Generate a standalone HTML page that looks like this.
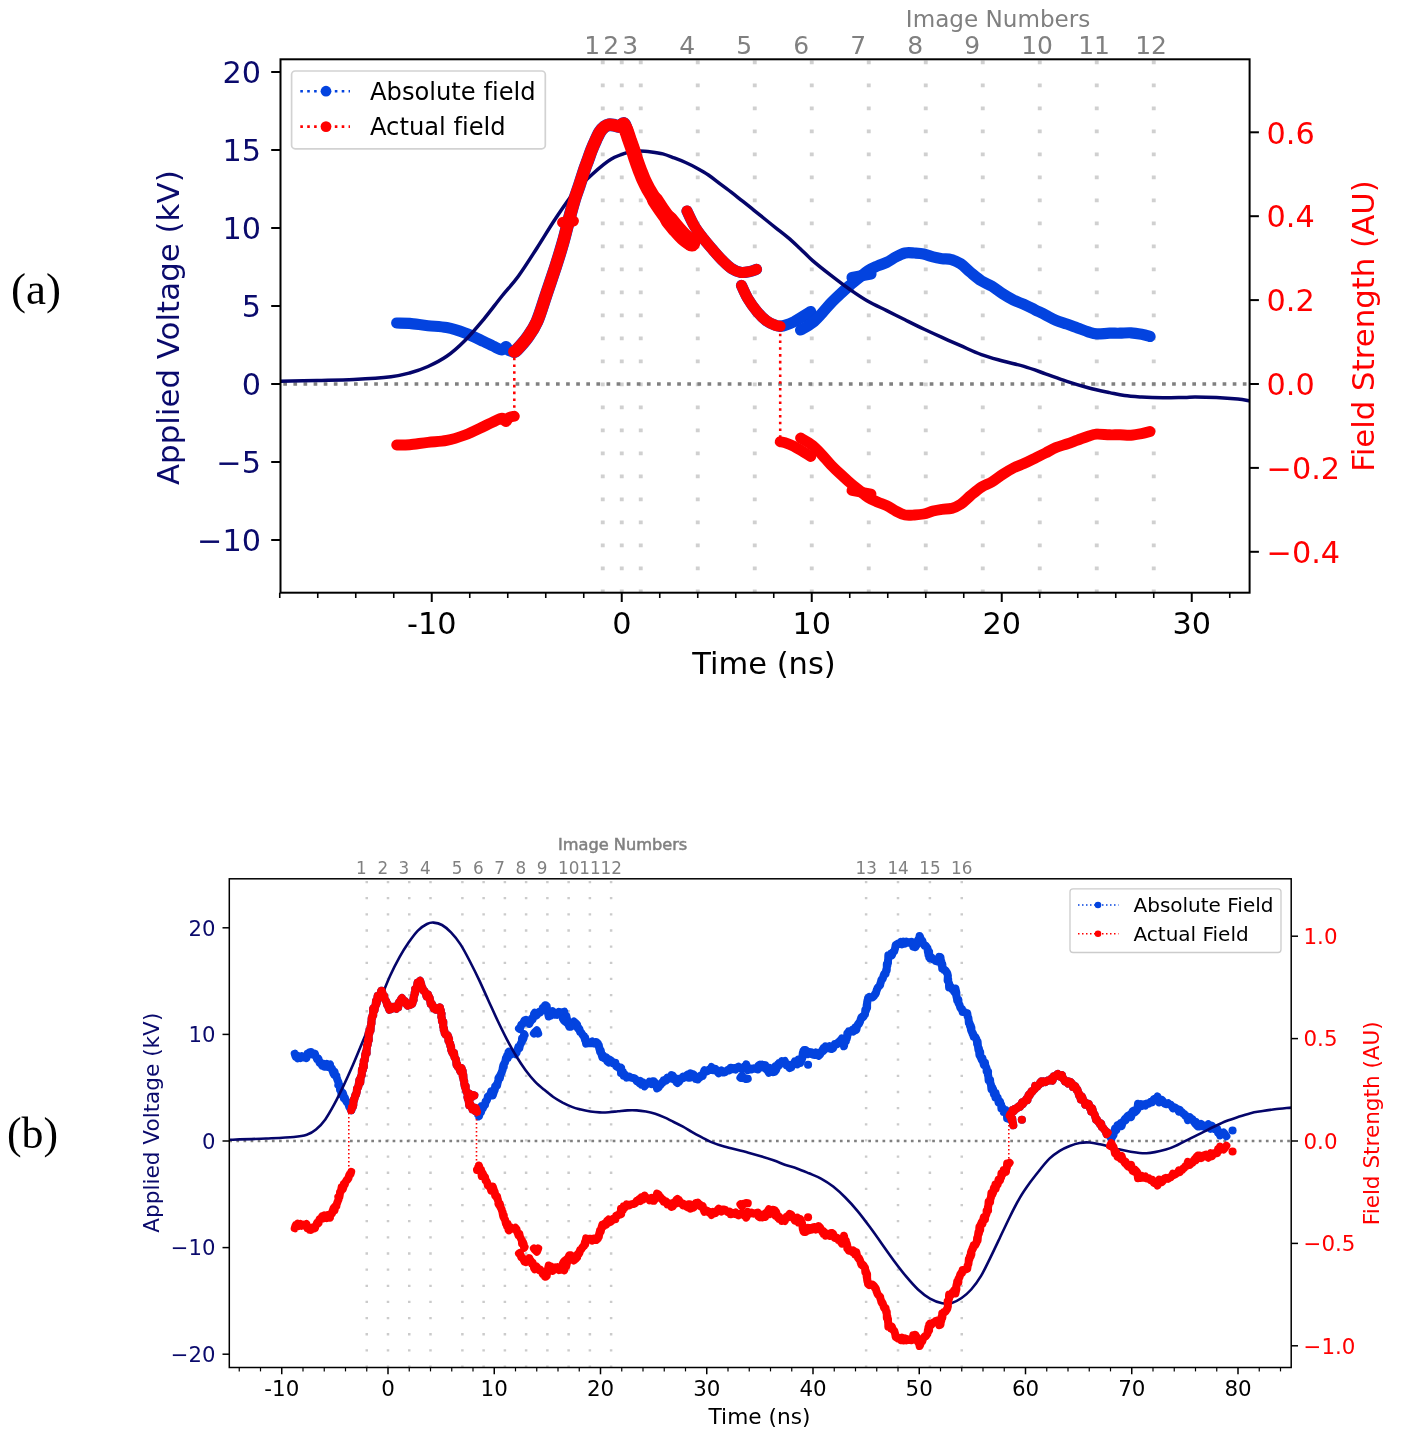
<!DOCTYPE html>
<html><head><meta charset="utf-8"><title>Figure</title>
<style>
html,body{margin:0;padding:0;background:#fff;}
body{width:1404px;height:1441px;overflow:hidden;position:relative;}
svg{position:absolute;left:0;top:0;display:block;}
svg text{font-family:"DejaVu Sans","Liberation Sans",sans-serif;font-variant-ligatures:none;font-feature-settings:"liga" 0,"clig" 0;}
.lab{position:absolute;font-family:"Liberation Serif",serif;font-size:45px;line-height:1;color:#000;white-space:nowrap;}
</style></head><body>
<svg width="1404" height="1441" viewBox="0 0 1404 1441">
<g id="plotA">
<line x1="602.75" y1="59.3" x2="602.75" y2="592.7" stroke="#d0d0d0" stroke-width="3.9" stroke-dasharray="3.8 19.2" stroke-dashoffset="-1.1"/>
<line x1="621.75" y1="59.3" x2="621.75" y2="592.7" stroke="#d0d0d0" stroke-width="3.9" stroke-dasharray="3.8 19.2" stroke-dashoffset="-1.1"/>
<line x1="640.75" y1="59.3" x2="640.75" y2="592.7" stroke="#d0d0d0" stroke-width="3.9" stroke-dasharray="3.8 19.2" stroke-dashoffset="-1.1"/>
<line x1="697.75" y1="59.3" x2="697.75" y2="592.7" stroke="#d0d0d0" stroke-width="3.9" stroke-dasharray="3.8 19.2" stroke-dashoffset="-1.1"/>
<line x1="754.75" y1="59.3" x2="754.75" y2="592.7" stroke="#d0d0d0" stroke-width="3.9" stroke-dasharray="3.8 19.2" stroke-dashoffset="-1.1"/>
<line x1="811.75" y1="59.3" x2="811.75" y2="592.7" stroke="#d0d0d0" stroke-width="3.9" stroke-dasharray="3.8 19.2" stroke-dashoffset="-1.1"/>
<line x1="868.75" y1="59.3" x2="868.75" y2="592.7" stroke="#d0d0d0" stroke-width="3.9" stroke-dasharray="3.8 19.2" stroke-dashoffset="-1.1"/>
<line x1="925.75" y1="59.3" x2="925.75" y2="592.7" stroke="#d0d0d0" stroke-width="3.9" stroke-dasharray="3.8 19.2" stroke-dashoffset="-1.1"/>
<line x1="982.75" y1="59.3" x2="982.75" y2="592.7" stroke="#d0d0d0" stroke-width="3.9" stroke-dasharray="3.8 19.2" stroke-dashoffset="-1.1"/>
<line x1="1039.75" y1="59.3" x2="1039.75" y2="592.7" stroke="#d0d0d0" stroke-width="3.9" stroke-dasharray="3.8 19.2" stroke-dashoffset="-1.1"/>
<line x1="1096.75" y1="59.3" x2="1096.75" y2="592.7" stroke="#d0d0d0" stroke-width="3.9" stroke-dasharray="3.8 19.2" stroke-dashoffset="-1.1"/>
<line x1="1153.75" y1="59.3" x2="1153.75" y2="592.7" stroke="#d0d0d0" stroke-width="3.9" stroke-dasharray="3.8 19.2" stroke-dashoffset="-1.1"/>
<line x1="280.5" y1="384.0" x2="1249.6" y2="384.0" stroke="#808080" stroke-width="3.6" stroke-dasharray="3.7 6.4" stroke-dashoffset="-2.8"/>
<path d="M396.7,323.0 C398.9,323.1 404.4,322.9 409.6,323.3 C414.8,323.8 421.8,325.0 428.0,325.7 C434.2,326.4 440.5,326.4 446.7,327.6 C452.9,328.8 458.8,330.7 465.0,333.0 C471.2,335.3 479.0,339.3 483.7,341.5 C488.4,343.7 489.9,344.6 493.0,346.0 C496.1,347.4 499.8,349.7 502.0,349.8 C504.2,349.9 504.8,346.4 506.0,346.5 C507.2,346.6 507.6,349.6 509.0,350.5 C510.4,351.4 513.4,351.5 514.3,351.7" fill="none" stroke="#0343df" stroke-width="11.2" stroke-linecap="round" stroke-linejoin="round"/>
<path d="M687.0,211.0 C688.2,213.5 691.6,221.3 694.4,226.0 C697.2,230.7 700.6,234.9 703.7,238.9 C706.8,242.9 709.9,246.4 713.0,250.0 C716.1,253.6 719.1,257.1 722.2,260.2 C725.3,263.3 728.4,266.5 731.5,268.5 C734.6,270.5 737.6,271.9 740.7,272.4 C743.8,272.9 747.4,272.0 750.0,271.5 C752.6,271.0 755.4,269.7 756.5,269.3" fill="none" stroke="#0343df" stroke-width="11.2" stroke-linecap="round" stroke-linejoin="round"/>
<path d="M741.5,285.4 C742.5,287.6 745.2,294.1 747.8,298.5 C750.4,302.9 753.9,307.8 757.0,311.5 C760.1,315.2 763.2,318.4 766.3,320.7 C769.4,323.0 773.3,324.5 775.6,325.4 C777.9,326.3 779.4,326.1 780.2,326.3" fill="none" stroke="#0343df" stroke-width="11.2" stroke-linecap="round" stroke-linejoin="round"/>
<path d="M780.2,326.3 C781.0,326.1 782.5,326.2 784.8,325.4 C787.1,324.6 790.9,323.2 794.0,321.7 C797.1,320.1 800.5,317.8 803.3,316.1 C806.1,314.4 809.5,312.3 810.7,311.5" fill="none" stroke="#0343df" stroke-width="11.2" stroke-linecap="round" stroke-linejoin="round"/>
<path d="M800.6,330.0 C802.6,328.8 809.1,325.4 812.6,322.6 C816.1,319.8 818.8,316.6 821.9,313.3 C825.0,310.0 827.9,306.2 831.0,303.0 C834.1,299.8 837.3,296.8 840.4,293.9 C843.5,291.0 846.5,288.2 849.6,285.6 C852.7,283.0 855.8,280.5 858.9,278.0 C862.0,275.5 864.9,272.7 868.0,270.7 C871.1,268.7 874.3,267.4 877.4,266.0 C880.5,264.6 883.6,263.9 886.7,262.4 C889.8,260.9 893.0,258.5 896.0,256.9 C899.0,255.3 901.9,253.7 905.0,253.0 C908.1,252.3 911.3,252.8 914.4,253.0 C917.5,253.2 920.6,253.3 923.7,254.0 C926.8,254.7 930.0,256.1 933.0,256.9 C936.0,257.7 938.9,258.2 942.0,258.7 C945.1,259.1 948.4,258.8 951.5,259.6 C954.6,260.5 957.5,261.7 960.7,263.8 C963.9,265.9 967.2,269.6 970.7,272.5 C974.2,275.4 977.9,278.6 981.4,280.9 C984.9,283.2 988.5,284.1 992.0,286.2 C995.5,288.3 999.1,291.4 1002.7,293.7 C1006.3,296.0 1009.9,298.2 1013.4,300.0 C1016.9,301.8 1020.4,302.8 1024.0,304.4 C1027.6,306.0 1031.2,307.9 1034.8,309.7 C1038.4,311.5 1042.0,313.2 1045.5,315.0 C1049.0,316.8 1052.5,318.9 1056.0,320.4 C1059.5,321.9 1063.2,322.8 1066.8,324.0 C1070.4,325.2 1073.9,326.6 1077.5,327.9 C1081.1,329.2 1085.0,330.8 1088.2,331.8 C1091.4,332.8 1093.2,333.7 1096.8,333.9 C1100.4,334.1 1105.7,333.3 1109.6,333.2 C1113.5,333.1 1116.4,333.3 1120.0,333.2 C1123.6,333.1 1127.4,332.6 1131.0,332.8 C1134.6,333.0 1138.4,333.7 1141.6,334.3 C1144.8,334.9 1148.6,336.1 1150.0,336.5" fill="none" stroke="#0343df" stroke-width="11.2" stroke-linecap="round" stroke-linejoin="round"/>
<path d="M852.0,277.5 L871.0,274.0" fill="none" stroke="#0343df" stroke-width="11.2" stroke-linecap="round" stroke-linejoin="round"/>
<path d="M514.3,351.7 C514.7,351.4 514.5,352.4 516.7,350.0 C519.0,347.6 524.4,341.8 527.8,337.0 C531.2,332.2 533.9,328.6 537.0,321.5 C540.1,314.4 543.2,303.5 546.3,294.4 C549.4,285.3 552.8,275.3 555.6,266.7 C558.4,258.1 560.9,250.1 563.0,242.6 C565.1,235.1 566.6,228.7 568.5,221.5 C570.4,214.3 572.7,205.8 574.5,199.7 C576.3,193.6 577.9,190.0 579.5,185.0 C581.1,180.0 583.0,174.0 584.4,169.8 C585.8,165.6 586.8,163.3 588.0,160.0 C589.2,156.7 590.3,153.2 591.6,149.9 C592.9,146.6 594.5,142.9 595.9,139.9 C597.3,136.9 598.6,134.0 600.0,131.8 C601.4,129.6 603.0,128.0 604.5,126.8 C606.0,125.6 607.2,125.1 608.8,124.8 C610.4,124.5 612.3,124.9 614.0,125.2 C615.7,125.5 617.4,126.8 619.0,126.5 C620.6,126.2 622.6,123.2 623.8,123.5 C625.0,123.8 625.4,126.4 626.0,128.0 C626.6,129.6 626.9,131.0 627.5,133.0 C628.1,135.0 628.8,137.1 629.8,139.9 C630.8,142.7 632.2,146.6 633.3,149.9 C634.4,153.2 635.2,156.5 636.3,159.8 C637.4,163.1 638.6,166.5 639.8,169.8 C641.0,173.1 642.2,176.5 643.7,179.8 C645.2,183.1 646.9,186.4 648.7,189.7 C650.6,193.0 652.7,196.4 654.8,199.7 C656.9,203.0 659.2,206.4 661.5,209.7 C663.8,213.0 666.2,216.3 668.8,219.6 C671.4,222.9 674.5,226.7 677.0,229.6 C679.5,232.5 681.4,234.7 684.0,237.0 C686.6,239.3 691.3,242.5 692.8,243.6" fill="none" stroke="#0343df" stroke-width="12.9" stroke-linecap="round" stroke-linejoin="round"/>
<path d="M280.0,381.3 C286.2,381.1 304.7,380.7 317.0,380.4 C329.3,380.1 341.7,380.0 354.0,379.4 C366.3,378.8 381.7,377.8 391.0,376.7 C400.3,375.6 403.4,374.7 409.6,373.0 C415.8,371.3 421.8,369.3 428.0,366.5 C434.2,363.7 440.5,360.6 446.7,356.3 C452.9,352.0 458.8,346.7 465.0,340.5 C471.2,334.3 477.5,326.7 483.7,319.3 C489.9,311.9 496.2,303.2 502.0,296.0 C507.8,288.8 512.7,284.0 518.5,276.0 C524.3,268.0 530.8,257.6 537.0,248.0 C543.2,238.4 549.4,227.7 555.6,218.5 C561.8,209.3 567.8,200.0 574.0,192.6 C580.2,185.2 586.4,179.6 592.6,174.0 C598.8,168.4 604.8,163.0 611.0,159.3 C617.2,155.6 624.8,153.3 629.6,151.9 C634.4,150.5 636.4,150.9 640.0,150.9 C643.6,150.9 647.6,151.4 651.4,151.9 C655.2,152.4 659.0,152.9 662.8,153.9 C666.6,154.9 670.4,156.5 674.2,157.9 C678.0,159.3 681.8,160.8 685.6,162.5 C689.4,164.2 693.2,166.1 697.0,168.2 C700.8,170.3 704.6,172.4 708.4,175.0 C712.2,177.6 716.0,180.8 719.8,183.6 C723.6,186.4 727.4,189.2 731.2,192.1 C735.0,195.0 738.8,198.2 742.6,201.2 C746.4,204.2 750.2,207.2 754.0,210.3 C757.8,213.4 761.6,216.4 765.4,219.5 C769.2,222.6 772.9,225.6 776.7,228.6 C780.5,231.6 784.2,234.4 788.1,237.7 C792.0,241.0 795.9,244.7 800.0,248.5 C804.1,252.3 807.4,256.1 812.6,260.6 C817.8,265.1 824.8,270.6 831.0,275.4 C837.2,280.2 843.4,285.0 849.6,289.3 C855.8,293.6 861.8,297.8 868.0,301.3 C874.2,304.9 880.5,307.5 886.7,310.6 C892.9,313.7 898.8,316.7 905.0,319.8 C911.2,322.9 917.5,326.1 923.7,329.0 C929.9,331.9 935.8,334.6 942.0,337.4 C948.2,340.2 954.1,342.8 960.7,345.7 C967.3,348.6 974.4,352.1 981.4,354.6 C988.4,357.2 995.6,359.0 1002.7,361.0 C1009.8,363.0 1016.9,364.3 1024.0,366.4 C1031.1,368.5 1038.4,371.3 1045.5,373.8 C1052.6,376.3 1059.7,379.0 1066.8,381.3 C1073.9,383.6 1081.1,385.8 1088.2,387.7 C1095.3,389.6 1103.5,391.3 1109.6,392.6 C1115.6,393.9 1119.2,394.9 1124.5,395.6 C1129.8,396.3 1135.2,396.6 1141.6,397.0 C1148.0,397.4 1155.9,397.7 1163.0,397.8 C1170.1,397.9 1179.1,397.5 1184.4,397.4 C1189.7,397.3 1189.7,397.0 1195.0,397.0 C1200.3,397.0 1209.3,397.1 1216.4,397.4 C1223.5,397.7 1232.3,398.4 1237.8,399.0 C1243.3,399.6 1247.6,400.5 1249.6,400.8" fill="none" stroke="#05056a" stroke-width="3.5" stroke-linejoin="round"/>
<line x1="514.3" y1="351.0" x2="514.3" y2="417.0" stroke="#ff0000" stroke-width="2.55" stroke-dasharray="2.55 4.22"/>
<line x1="780.2" y1="327.0" x2="780.2" y2="441.0" stroke="#ff0000" stroke-width="2.55" stroke-dasharray="2.55 4.22"/>
<path d="M562.5,222.5 L573.5,221.0" fill="none" stroke="#ff0000" stroke-width="10.9" stroke-linecap="round" stroke-linejoin="round"/>
<path d="M687.0,211.0 C688.2,213.5 691.6,221.3 694.4,226.0 C697.2,230.7 700.6,234.9 703.7,238.9 C706.8,242.9 709.9,246.4 713.0,250.0 C716.1,253.6 719.1,257.1 722.2,260.2 C725.3,263.3 728.4,266.5 731.5,268.5 C734.6,270.5 737.6,271.9 740.7,272.4 C743.8,272.9 747.4,272.0 750.0,271.5 C752.6,271.0 755.4,269.7 756.5,269.3" fill="none" stroke="#ff0000" stroke-width="10.9" stroke-linecap="round" stroke-linejoin="round"/>
<path d="M741.5,285.4 C742.5,287.6 745.2,294.1 747.8,298.5 C750.4,302.9 753.9,307.8 757.0,311.5 C760.1,315.2 763.2,318.4 766.3,320.7 C769.4,323.0 773.3,324.5 775.6,325.4 C777.9,326.3 779.4,326.1 780.2,326.3" fill="none" stroke="#ff0000" stroke-width="10.9" stroke-linecap="round" stroke-linejoin="round"/>
<path d="M514.3,351.7 C514.7,351.4 514.5,352.4 516.7,350.0 C519.0,347.6 524.4,341.8 527.8,337.0 C531.2,332.2 533.9,328.6 537.0,321.5 C540.1,314.4 543.2,303.5 546.3,294.4 C549.4,285.3 552.8,275.3 555.6,266.7 C558.4,258.1 560.9,250.1 563.0,242.6 C565.1,235.1 566.6,228.7 568.5,221.5 C570.4,214.3 572.7,205.8 574.5,199.7 C576.3,193.6 577.9,190.0 579.5,185.0 C581.1,180.0 583.0,174.0 584.4,169.8 C585.8,165.6 586.8,163.3 588.0,160.0 C589.2,156.7 590.3,153.2 591.6,149.9 C592.9,146.6 594.5,142.9 595.9,139.9 C597.3,136.9 598.6,134.0 600.0,131.8 C601.4,129.6 603.0,128.0 604.5,126.8 C606.0,125.6 607.2,125.1 608.8,124.8 C610.4,124.5 612.3,124.9 614.0,125.2 C615.7,125.5 617.4,126.8 619.0,126.5 C620.6,126.2 622.6,123.2 623.8,123.5 C625.0,123.8 625.4,126.4 626.0,128.0 C626.6,129.6 626.9,131.0 627.5,133.0 C628.1,135.0 628.8,137.1 629.8,139.9 C630.8,142.7 632.2,146.6 633.3,149.9 C634.4,153.2 635.2,156.5 636.3,159.8 C637.4,163.1 638.6,166.5 639.8,169.8 C641.0,173.1 642.2,176.5 643.7,179.8 C645.2,183.1 646.9,186.4 648.7,189.7 C650.6,193.0 652.7,196.4 654.8,199.7 C656.9,203.0 659.2,206.4 661.5,209.7 C663.8,213.0 666.2,216.3 668.8,219.6 C671.4,222.9 674.5,226.7 677.0,229.6 C679.5,232.5 681.4,234.7 684.0,237.0 C686.6,239.3 691.3,242.5 692.8,243.6" fill="none" stroke="#ff0000" stroke-width="12.3" stroke-linecap="round" stroke-linejoin="round"/>
<path d="M622.5,125.5 C623.0,126.0 624.7,127.2 625.5,128.5 C626.3,129.8 626.5,131.1 627.2,133.0 C627.9,134.9 628.5,137.1 629.5,139.9 C630.5,142.7 631.9,146.6 633.0,149.9 C634.1,153.2 635.0,156.5 636.1,159.8 C637.2,163.1 638.4,166.5 639.7,169.8 C641.0,173.1 642.2,176.5 643.7,179.8 C645.2,183.1 646.9,186.4 648.7,189.7 C650.6,193.0 652.7,196.4 654.8,199.7 C656.9,203.0 659.2,206.4 661.5,209.7 C663.8,213.0 666.2,216.3 668.8,219.6 C671.4,222.9 674.5,226.7 677.0,229.6 C679.5,232.5 681.6,234.8 684.0,237.0 C686.4,239.2 690.2,241.8 691.5,242.8" fill="none" stroke="#ff0000" stroke-width="14.5" stroke-linecap="round" stroke-linejoin="round"/>
<path d="M654.8,199.7 C655.9,201.4 659.2,206.4 661.5,209.7 C663.8,213.0 666.2,216.3 668.8,219.6 C671.4,222.9 674.5,226.7 677.0,229.6 C679.5,232.5 681.6,234.8 684.0,237.0 C686.4,239.2 690.2,241.8 691.5,242.8" fill="none" stroke="#ff0000" stroke-width="16.0" stroke-linecap="round" stroke-linejoin="round"/>
<path d="M668.8,219.6 C670.2,221.3 674.5,226.7 677.0,229.6 C679.5,232.5 681.6,234.8 684.0,237.0 C686.4,239.2 690.2,241.8 691.5,242.8" fill="none" stroke="#ff0000" stroke-width="17.6" stroke-linecap="round" stroke-linejoin="round"/>
<path d="M396.7,445.0 C398.9,444.9 404.4,445.1 409.6,444.7 C414.8,444.2 421.8,443.0 428.0,442.3 C434.2,441.6 440.5,441.6 446.7,440.4 C452.9,439.2 458.8,437.3 465.0,435.0 C471.2,432.7 479.0,428.7 483.7,426.5 C488.4,424.3 489.9,423.4 493.0,422.0 C496.1,420.6 499.8,418.3 502.0,418.2 C504.2,418.1 504.8,421.6 506.0,421.5 C507.2,421.4 507.6,418.4 509.0,417.5 C510.4,416.6 513.4,416.5 514.3,416.3" fill="none" stroke="#ff0000" stroke-width="10.9" stroke-linecap="round" stroke-linejoin="round"/>
<path d="M780.2,441.7 C781.0,441.9 782.5,441.8 784.8,442.6 C787.1,443.4 790.9,444.8 794.0,446.3 C797.1,447.9 800.5,450.2 803.3,451.9 C806.1,453.6 809.5,455.7 810.7,456.5" fill="none" stroke="#ff0000" stroke-width="10.9" stroke-linecap="round" stroke-linejoin="round"/>
<path d="M800.6,438.0 C802.6,439.2 809.1,442.6 812.6,445.4 C816.1,448.2 818.8,451.4 821.9,454.7 C825.0,458.0 827.9,461.8 831.0,465.0 C834.1,468.2 837.3,471.2 840.4,474.1 C843.5,477.0 846.5,479.8 849.6,482.4 C852.7,485.0 855.8,487.5 858.9,490.0 C862.0,492.5 864.9,495.3 868.0,497.3 C871.1,499.3 874.3,500.6 877.4,502.0 C880.5,503.4 883.6,504.1 886.7,505.6 C889.8,507.1 893.0,509.5 896.0,511.1 C899.0,512.7 901.9,514.4 905.0,515.0 C908.1,515.6 911.3,515.2 914.4,515.0 C917.5,514.8 920.6,514.6 923.7,514.0 C926.8,513.4 930.0,511.9 933.0,511.1 C936.0,510.3 938.9,509.8 942.0,509.3 C945.1,508.9 948.4,509.2 951.5,508.4 C954.6,507.5 957.5,506.3 960.7,504.2 C963.9,502.1 967.2,498.4 970.7,495.5 C974.2,492.6 977.9,489.4 981.4,487.1 C984.9,484.8 988.5,483.9 992.0,481.8 C995.5,479.7 999.1,476.6 1002.7,474.3 C1006.3,472.0 1009.9,469.8 1013.4,468.0 C1016.9,466.2 1020.4,465.2 1024.0,463.6 C1027.6,462.0 1031.2,460.1 1034.8,458.3 C1038.4,456.5 1042.0,454.8 1045.5,453.0 C1049.0,451.2 1052.5,449.1 1056.0,447.6 C1059.5,446.1 1063.2,445.2 1066.8,444.0 C1070.4,442.8 1073.9,441.4 1077.5,440.1 C1081.1,438.8 1085.0,437.2 1088.2,436.2 C1091.4,435.2 1093.2,434.3 1096.8,434.1 C1100.4,433.9 1105.7,434.7 1109.6,434.8 C1113.5,434.9 1116.4,434.7 1120.0,434.8 C1123.6,434.9 1127.4,435.4 1131.0,435.2 C1134.6,435.0 1138.4,434.3 1141.6,433.7 C1144.8,433.1 1148.6,431.9 1150.0,431.5" fill="none" stroke="#ff0000" stroke-width="10.9" stroke-linecap="round" stroke-linejoin="round"/>
<path d="M852.0,490.5 L871.0,494.0" fill="none" stroke="#ff0000" stroke-width="10.9" stroke-linecap="round" stroke-linejoin="round"/>
<rect x="280.5" y="59.3" width="969.1" height="533.4" fill="none" stroke="#000" stroke-width="2"/>
<line x1="279.75" y1="592.7" x2="279.75" y2="598.0" stroke="#000" stroke-width="1.6"/>
<line x1="317.75" y1="592.7" x2="317.75" y2="598.0" stroke="#000" stroke-width="1.6"/>
<line x1="355.75" y1="592.7" x2="355.75" y2="598.0" stroke="#000" stroke-width="1.6"/>
<line x1="393.75" y1="592.7" x2="393.75" y2="598.0" stroke="#000" stroke-width="1.6"/>
<line x1="431.75" y1="592.7" x2="431.75" y2="602.0" stroke="#000" stroke-width="2"/>
<line x1="469.75" y1="592.7" x2="469.75" y2="598.0" stroke="#000" stroke-width="1.6"/>
<line x1="507.75" y1="592.7" x2="507.75" y2="598.0" stroke="#000" stroke-width="1.6"/>
<line x1="545.75" y1="592.7" x2="545.75" y2="598.0" stroke="#000" stroke-width="1.6"/>
<line x1="583.75" y1="592.7" x2="583.75" y2="598.0" stroke="#000" stroke-width="1.6"/>
<line x1="621.75" y1="592.7" x2="621.75" y2="602.0" stroke="#000" stroke-width="2"/>
<line x1="659.75" y1="592.7" x2="659.75" y2="598.0" stroke="#000" stroke-width="1.6"/>
<line x1="697.75" y1="592.7" x2="697.75" y2="598.0" stroke="#000" stroke-width="1.6"/>
<line x1="735.75" y1="592.7" x2="735.75" y2="598.0" stroke="#000" stroke-width="1.6"/>
<line x1="773.75" y1="592.7" x2="773.75" y2="598.0" stroke="#000" stroke-width="1.6"/>
<line x1="811.75" y1="592.7" x2="811.75" y2="602.0" stroke="#000" stroke-width="2"/>
<line x1="849.75" y1="592.7" x2="849.75" y2="598.0" stroke="#000" stroke-width="1.6"/>
<line x1="887.75" y1="592.7" x2="887.75" y2="598.0" stroke="#000" stroke-width="1.6"/>
<line x1="925.75" y1="592.7" x2="925.75" y2="598.0" stroke="#000" stroke-width="1.6"/>
<line x1="963.75" y1="592.7" x2="963.75" y2="598.0" stroke="#000" stroke-width="1.6"/>
<line x1="1001.75" y1="592.7" x2="1001.75" y2="602.0" stroke="#000" stroke-width="2"/>
<line x1="1039.75" y1="592.7" x2="1039.75" y2="598.0" stroke="#000" stroke-width="1.6"/>
<line x1="1077.75" y1="592.7" x2="1077.75" y2="598.0" stroke="#000" stroke-width="1.6"/>
<line x1="1115.75" y1="592.7" x2="1115.75" y2="598.0" stroke="#000" stroke-width="1.6"/>
<line x1="1153.75" y1="592.7" x2="1153.75" y2="598.0" stroke="#000" stroke-width="1.6"/>
<line x1="1191.75" y1="592.7" x2="1191.75" y2="602.0" stroke="#000" stroke-width="2"/>
<line x1="1229.75" y1="592.7" x2="1229.75" y2="598.0" stroke="#000" stroke-width="1.6"/>
<text x="431.8" y="633.8" font-size="30.3" text-anchor="middle" fill="#000">-10</text>
<text x="621.8" y="633.8" font-size="30.3" text-anchor="middle" fill="#000">0</text>
<text x="811.8" y="633.8" font-size="30.3" text-anchor="middle" fill="#000">10</text>
<text x="1001.8" y="633.8" font-size="30.3" text-anchor="middle" fill="#000">20</text>
<text x="1191.8" y="633.8" font-size="30.3" text-anchor="middle" fill="#000">30</text>
<line x1="271.2" y1="72.0" x2="280.5" y2="72.0" stroke="#000" stroke-width="2"/>
<text x="261" y="83.2" font-size="30.3" text-anchor="end" fill="#0a0a6c">20</text>
<line x1="271.2" y1="150.0" x2="280.5" y2="150.0" stroke="#000" stroke-width="2"/>
<text x="261" y="161.2" font-size="30.3" text-anchor="end" fill="#0a0a6c">15</text>
<line x1="271.2" y1="228.0" x2="280.5" y2="228.0" stroke="#000" stroke-width="2"/>
<text x="261" y="239.2" font-size="30.3" text-anchor="end" fill="#0a0a6c">10</text>
<line x1="271.2" y1="306.0" x2="280.5" y2="306.0" stroke="#000" stroke-width="2"/>
<text x="261" y="317.2" font-size="30.3" text-anchor="end" fill="#0a0a6c">5</text>
<line x1="271.2" y1="384.0" x2="280.5" y2="384.0" stroke="#000" stroke-width="2"/>
<text x="261" y="395.2" font-size="30.3" text-anchor="end" fill="#0a0a6c">0</text>
<line x1="271.2" y1="462.0" x2="280.5" y2="462.0" stroke="#000" stroke-width="2"/>
<text x="261" y="473.2" font-size="30.3" text-anchor="end" fill="#0a0a6c">−5</text>
<line x1="271.2" y1="540.0" x2="280.5" y2="540.0" stroke="#000" stroke-width="2"/>
<text x="261" y="551.2" font-size="30.3" text-anchor="end" fill="#0a0a6c">−10</text>
<line x1="1249.6" y1="132.3" x2="1258.9" y2="132.3" stroke="#000" stroke-width="2"/>
<text x="1266.5" y="143.5" font-size="30.3" fill="#ff0000">0.6</text>
<line x1="1249.6" y1="216.2" x2="1258.9" y2="216.2" stroke="#000" stroke-width="2"/>
<text x="1266.5" y="227.4" font-size="30.3" fill="#ff0000">0.4</text>
<line x1="1249.6" y1="300.1" x2="1258.9" y2="300.1" stroke="#000" stroke-width="2"/>
<text x="1266.5" y="311.3" font-size="30.3" fill="#ff0000">0.2</text>
<line x1="1249.6" y1="384.0" x2="1258.9" y2="384.0" stroke="#000" stroke-width="2"/>
<text x="1266.5" y="395.2" font-size="30.3" fill="#ff0000">0.0</text>
<line x1="1249.6" y1="467.9" x2="1258.9" y2="467.9" stroke="#000" stroke-width="2"/>
<text x="1266.5" y="479.1" font-size="30.3" fill="#ff0000">−0.2</text>
<line x1="1249.6" y1="551.8" x2="1258.9" y2="551.8" stroke="#000" stroke-width="2"/>
<text x="1266.5" y="563.0" font-size="30.3" fill="#ff0000">−0.4</text>
<text x="764" y="674.3" font-size="30.5" text-anchor="middle" fill="#000">Time (ns)</text>
<text transform="translate(179.3,327.7) rotate(-90)" font-size="30.9" text-anchor="middle" fill="#0a0a6c">Applied Voltage (kV)</text>
<text transform="translate(1374.3,326) rotate(-90)" font-size="30.8" text-anchor="middle" fill="#ff0000">Field Strength (AU)</text>
<text x="998.1" y="27" font-size="23.1" text-anchor="middle" fill="#808080">Image Numbers</text>
<text x="584.2" y="53.8" font-size="25" fill="#808080">1</text>
<text x="603.2" y="53.8" font-size="25" fill="#808080">2</text>
<text x="622.2" y="53.8" font-size="25" fill="#808080">3</text>
<text x="679.2" y="53.8" font-size="25" fill="#808080">4</text>
<text x="736.2" y="53.8" font-size="25" fill="#808080">5</text>
<text x="793.2" y="53.8" font-size="25" fill="#808080">6</text>
<text x="850.2" y="53.8" font-size="25" fill="#808080">7</text>
<text x="907.2" y="53.8" font-size="25" fill="#808080">8</text>
<text x="964.2" y="53.8" font-size="25" fill="#808080">9</text>
<text x="1021.2" y="53.8" font-size="25" fill="#808080">10</text>
<text x="1078.2" y="53.8" font-size="25" fill="#808080">11</text>
<text x="1135.2" y="53.8" font-size="25" fill="#808080">12</text>
<rect x="291.6" y="71" width="253.7" height="77.8" rx="3.6" ry="3.6" fill="#fff" fill-opacity="0.8" stroke="#d2d2d2" stroke-width="1.7"/>
<line x1="300.3" y1="91.2" x2="350" y2="91.2" stroke="#0343df" stroke-width="2.6" stroke-dasharray="2.6 4.3"/>
<circle cx="326" cy="91.2" r="5.4" fill="#0343df"/>
<text x="370" y="99.9" font-size="24.2" fill="#000">Absolute field</text>
<line x1="300.3" y1="126.6" x2="350" y2="126.6" stroke="#ff0000" stroke-width="2.6" stroke-dasharray="2.6 4.3"/>
<circle cx="326" cy="126.6" r="5.4" fill="#ff0000"/>
<text x="370" y="134.9" font-size="24.2" fill="#000">Actual field</text>
</g>
<g id="plotB">
<line x1="366.75" y1="878.8" x2="366.75" y2="1367.5" stroke="#cbcbcb" stroke-width="2.5" stroke-dasharray="2.3 13.85" stroke-dashoffset="-2.1"/>
<line x1="388.00" y1="878.8" x2="388.00" y2="1367.5" stroke="#cbcbcb" stroke-width="2.5" stroke-dasharray="2.3 13.85" stroke-dashoffset="-2.1"/>
<line x1="409.25" y1="878.8" x2="409.25" y2="1367.5" stroke="#cbcbcb" stroke-width="2.5" stroke-dasharray="2.3 13.85" stroke-dashoffset="-2.1"/>
<line x1="430.50" y1="878.8" x2="430.50" y2="1367.5" stroke="#cbcbcb" stroke-width="2.5" stroke-dasharray="2.3 13.85" stroke-dashoffset="-2.1"/>
<line x1="462.38" y1="878.8" x2="462.38" y2="1367.5" stroke="#cbcbcb" stroke-width="2.5" stroke-dasharray="2.3 13.85" stroke-dashoffset="-2.1"/>
<line x1="483.62" y1="878.8" x2="483.62" y2="1367.5" stroke="#cbcbcb" stroke-width="2.5" stroke-dasharray="2.3 13.85" stroke-dashoffset="-2.1"/>
<line x1="504.88" y1="878.8" x2="504.88" y2="1367.5" stroke="#cbcbcb" stroke-width="2.5" stroke-dasharray="2.3 13.85" stroke-dashoffset="-2.1"/>
<line x1="526.12" y1="878.8" x2="526.12" y2="1367.5" stroke="#cbcbcb" stroke-width="2.5" stroke-dasharray="2.3 13.85" stroke-dashoffset="-2.1"/>
<line x1="547.38" y1="878.8" x2="547.38" y2="1367.5" stroke="#cbcbcb" stroke-width="2.5" stroke-dasharray="2.3 13.85" stroke-dashoffset="-2.1"/>
<line x1="568.62" y1="878.8" x2="568.62" y2="1367.5" stroke="#cbcbcb" stroke-width="2.5" stroke-dasharray="2.3 13.85" stroke-dashoffset="-2.1"/>
<line x1="589.88" y1="878.8" x2="589.88" y2="1367.5" stroke="#cbcbcb" stroke-width="2.5" stroke-dasharray="2.3 13.85" stroke-dashoffset="-2.1"/>
<line x1="611.12" y1="878.8" x2="611.12" y2="1367.5" stroke="#cbcbcb" stroke-width="2.5" stroke-dasharray="2.3 13.85" stroke-dashoffset="-2.1"/>
<line x1="866.12" y1="878.8" x2="866.12" y2="1367.5" stroke="#cbcbcb" stroke-width="2.5" stroke-dasharray="2.3 13.85" stroke-dashoffset="-2.1"/>
<line x1="898.00" y1="878.8" x2="898.00" y2="1367.5" stroke="#cbcbcb" stroke-width="2.5" stroke-dasharray="2.3 13.85" stroke-dashoffset="-2.1"/>
<line x1="929.88" y1="878.8" x2="929.88" y2="1367.5" stroke="#cbcbcb" stroke-width="2.5" stroke-dasharray="2.3 13.85" stroke-dashoffset="-2.1"/>
<line x1="961.75" y1="878.8" x2="961.75" y2="1367.5" stroke="#cbcbcb" stroke-width="2.5" stroke-dasharray="2.3 13.85" stroke-dashoffset="-2.1"/>
<line x1="229.3" y1="1141.0" x2="1291.2" y2="1141.0" stroke="#808080" stroke-width="2.7" stroke-dasharray="2.7 4.4"/>
<polyline points="294.7,1053.7 295.7,1056.9 296.1,1054.9 296.6,1057.2 297.5,1058.3 298.7,1056.1 300.3,1058.0 301.7,1056.3 303.0,1057.4 304.1,1056.4 304.9,1056.4 306.4,1058.1 307.4,1053.7 308.8,1053.3 309.6,1052.2 311.1,1052.1 312.3,1054.4 313.8,1053.5 315.0,1053.7 315.4,1055.7 316.4,1057.4 317.1,1059.2 317.7,1059.3 318.5,1058.8 318.9,1061.0 319.7,1063.0 321.3,1063.8 322.2,1065.7 323.2,1063.6 324.4,1066.7 325.8,1065.7 326.9,1063.9 327.8,1067.0 329.0,1064.8 330.0,1064.3 330.2,1067.3 331.4,1068.9 332.0,1068.6 332.7,1071.3 333.7,1074.0 334.5,1071.6 335.3,1075.8 336.4,1075.9 336.4,1077.1 336.9,1078.3 337.4,1079.8 338.2,1081.7 338.5,1082.2 338.5,1084.2 338.3,1084.9 339.3,1084.6 339.7,1086.8 340.0,1088.9 340.0,1089.9 340.9,1090.8 341.6,1094.6 342.2,1094.1 342.8,1092.9 343.5,1095.2 343.8,1098.0 344.8,1097.6 345.4,1099.7 347.0,1102.4 347.4,1102.2 348.4,1103.7 348.7,1105.0 349.4,1107.3 349.8,1107.1 350.5,1107.9 351.2,1110.2" fill="none" stroke="#0343df" stroke-width="8.0" stroke-linecap="round" stroke-linejoin="round"/>
<polyline points="477.0,1112.0 478.0,1112.2 478.1,1114.5 478.7,1113.4 479.0,1116.5 479.5,1114.2 479.9,1112.9 480.6,1112.5 481.1,1112.2 481.7,1106.0 482.7,1108.7 483.0,1108.0 483.4,1107.1 484.2,1105.6 484.5,1104.5 485.0,1105.0 485.6,1101.5 486.5,1100.8 487.0,1099.9 487.6,1098.0 487.8,1096.7 489.4,1095.4 490.6,1093.7 491.2,1091.3 492.2,1090.9 492.7,1095.6 494.0,1091.5 494.7,1090.0 495.1,1086.6 495.4,1087.9 495.7,1086.4 496.3,1084.8 497.0,1085.8 497.8,1082.2 498.5,1080.0 498.4,1078.3 499.3,1076.7 499.9,1078.2 500.4,1074.8 501.1,1073.7 501.5,1073.0 502.1,1071.0 502.7,1069.6 502.6,1068.8 503.2,1065.9 503.8,1066.9 503.8,1064.4 504.7,1062.9 505.2,1061.9 505.8,1058.6 506.2,1058.8 506.6,1057.6 507.0,1055.9 507.6,1058.4 508.2,1055.3 508.5,1052.1 508.9,1051.7 510.4,1054.9 511.4,1053.6 513.2,1053.3 514.4,1053.5 515.3,1054.2 516.5,1052.9 517.1,1050.3 517.8,1048.9 518.4,1046.8 519.3,1048.3 520.0,1045.2 520.5,1044.2 521.3,1042.6 521.9,1041.7 522.0,1038.6 523.0,1039.7 523.7,1037.8 524.1,1034.0 524.6,1035.0" fill="none" stroke="#0343df" stroke-width="8.0" stroke-linecap="round" stroke-linejoin="round"/>
<polyline points="519.0,1028.5 519.8,1029.1 520.4,1027.5 521.3,1024.6 522.6,1024.0 523.0,1023.6 524.0,1021.3 524.6,1020.2 525.9,1019.8 526.9,1021.4 527.8,1020.9 529.3,1023.9 529.8,1022.4 530.9,1021.1 531.7,1018.5 532.5,1019.6 533.5,1016.9 534.0,1014.1 534.8,1012.7 535.7,1014.6 536.5,1015.4 537.5,1014.2 539.1,1011.9 540.3,1012.4 541.3,1010.9 542.3,1009.5 542.7,1007.9 543.3,1007.5 544.1,1008.0 545.0,1005.4 545.1,1005.3 545.7,1005.2 546.8,1006.2 546.8,1010.2 547.7,1009.6 548.0,1012.7 548.2,1014.2 548.7,1016.5 550.0,1014.2 551.0,1015.6 552.5,1011.0 553.3,1013.7 555.0,1014.6 556.0,1013.2 557.4,1014.7 558.9,1011.9 560.2,1012.2 561.3,1012.9 562.6,1012.5 564.3,1011.7 564.3,1014.8 566.3,1015.6 566.6,1017.4 566.8,1018.0 567.2,1020.9 567.3,1020.3 568.1,1022.9 568.0,1023.5 569.3,1026.7 571.2,1022.5 572.3,1023.6 573.9,1021.6 575.6,1023.0 576.0,1023.4 577.2,1024.7 577.3,1027.4 578.3,1028.8 579.2,1028.5 579.6,1029.8 580.1,1032.0 581.0,1032.2 581.9,1033.7 582.2,1034.3 582.7,1034.8 583.4,1036.0 584.1,1036.2 584.9,1039.7 585.2,1037.6 586.1,1043.6 586.7,1043.3 587.9,1042.2 589.3,1043.3 590.6,1043.3 592.2,1041.5 593.5,1043.2 595.0,1042.1 596.1,1041.9 597.8,1043.3 598.2,1045.6 598.8,1045.1 599.3,1048.8 599.6,1048.2 600.0,1051.4 600.7,1050.3 601.1,1052.3 601.5,1054.4 602.3,1057.2 603.5,1055.6 604.3,1058.4 605.0,1058.6 606.2,1057.4 607.0,1061.0 608.5,1062.4 610.1,1059.8 611.5,1060.9 613.0,1063.3 614.4,1062.8 615.4,1062.8 616.1,1066.2 617.0,1066.7 618.2,1066.7 619.6,1068.3 620.0,1069.3 621.2,1067.8 621.0,1073.2 622.4,1072.7 622.9,1071.8 623.7,1075.7 625.0,1074.6 626.6,1077.7 628.1,1077.4 629.4,1076.6 631.0,1077.6 632.2,1077.9 633.5,1077.9 634.8,1078.4 635.8,1079.5 636.7,1081.3 638.4,1081.9 639.4,1083.1 640.5,1081.0 641.5,1084.6 643.1,1082.4 644.6,1086.4 645.9,1084.0 646.8,1083.8 648.4,1083.7 649.4,1081.8 651.3,1084.0 652.4,1081.3 653.7,1081.2 654.3,1083.3 654.9,1082.5 656.3,1086.0 657.0,1088.4 658.0,1087.8 658.6,1087.5 659.6,1085.6 660.5,1084.9 661.2,1083.9 662.3,1082.1 662.9,1082.3 663.5,1080.4 664.8,1080.8 666.0,1080.7 667.3,1077.7 668.9,1078.9 670.3,1078.3 671.4,1075.0 672.8,1075.7 673.7,1077.3 674.1,1079.5 675.1,1078.0 676.0,1078.7 676.4,1082.3 677.4,1083.0 678.0,1082.0 679.0,1081.9 680.0,1080.1 680.8,1078.3 682.3,1078.4 683.0,1076.7 683.9,1077.9 685.8,1075.9 687.2,1074.8 688.2,1077.7 689.8,1077.8 690.7,1073.4 692.2,1075.7 693.4,1074.4 694.4,1075.4 695.8,1079.0 696.8,1078.7 697.8,1079.4 698.7,1077.9 699.7,1077.6 700.6,1075.6 701.9,1075.5 702.7,1075.9 703.3,1073.0 704.5,1070.2 706.3,1071.5 707.5,1071.2 708.9,1069.5 710.2,1070.0 711.6,1067.0 713.2,1070.2 714.4,1069.3 715.4,1068.9 717.2,1071.5 718.6,1073.3 720.0,1072.0 721.3,1070.4 722.5,1072.6 723.9,1072.5 725.5,1071.9 726.9,1070.6 728.0,1069.8 729.3,1070.4 730.4,1067.7 731.7,1068.0 732.7,1069.2 734.3,1068.1 735.8,1069.4 736.7,1067.6 738.4,1066.6 739.3,1068.0 741.1,1068.1 742.6,1068.6 744.0,1066.7 745.2,1068.1 746.3,1064.4 747.7,1070.1 748.6,1069.9 750.1,1068.4 751.5,1069.4 752.7,1069.0 753.7,1068.3 755.2,1068.6 756.1,1068.9 757.8,1069.5 758.3,1065.7 759.8,1064.8 760.5,1066.1 762.1,1064.7 762.7,1067.4 764.3,1066.8 765.2,1065.1 766.3,1069.4 767.5,1070.2 768.9,1072.7 770.0,1067.9 771.6,1070.8 772.8,1072.2 773.7,1072.1 774.6,1071.9 775.5,1066.4 776.0,1070.4 776.8,1067.8 777.7,1064.7 778.8,1065.6 779.3,1063.0 780.6,1063.8 781.8,1061.0 783.6,1061.6 784.8,1061.0 785.3,1062.8 786.3,1065.1 787.2,1064.0 787.7,1065.4 788.5,1066.7 789.7,1068.1 791.3,1067.4 792.3,1064.5 793.7,1063.7 794.8,1061.3 796.0,1063.0 797.3,1064.3 798.5,1059.5 800.1,1063.2 801.5,1060.2 802.2,1058.4 802.1,1057.5 802.4,1056.4 802.8,1053.0 803.1,1053.5 803.4,1051.0 804.1,1053.9 804.3,1050.0 805.5,1050.1 807.0,1051.2 808.0,1054.2 809.2,1051.9 810.7,1053.7 811.9,1052.6 813.3,1054.8 815.0,1055.0 816.0,1052.5 817.3,1053.0 818.7,1055.8 820.0,1054.6 820.8,1053.1 821.4,1052.2 822.4,1049.7 823.1,1051.1 823.7,1048.1 824.6,1049.7 825.6,1046.3 827.1,1047.7 828.4,1048.1 829.7,1046.1 831.0,1049.0 832.2,1048.9 833.0,1048.3 834.6,1044.1 835.5,1044.9 836.7,1044.4 837.5,1044.0 838.3,1042.2 839.5,1042.7 840.4,1040.4 841.3,1039.8 842.0,1038.3 842.6,1042.0 842.7,1043.1 843.1,1042.1 844.0,1046.3 844.3,1043.9 844.9,1042.5 844.9,1041.1 845.9,1041.1 845.8,1038.4 846.0,1038.3 846.7,1038.8 847.3,1036.3 847.3,1033.4 847.8,1033.3 848.7,1031.4 850.6,1031.9 852.0,1030.1 853.3,1031.5 854.3,1030.8 854.9,1029.9 855.2,1027.5 856.3,1029.8 857.3,1025.4 858.3,1023.6 858.9,1024.0 860.0,1021.8 860.4,1020.3 861.4,1017.3 862.1,1018.0 862.7,1016.3 863.5,1016.7 864.0,1015.7 864.6,1014.7 865.0,1014.4 865.3,1010.1 865.6,1011.5 866.3,1009.3 866.4,1009.4 866.7,1005.1 867.1,1007.8 867.1,1002.3 867.2,1003.5 867.5,1000.3 867.9,999.4 868.0,998.0 869.4,996.8 870.7,997.4 872.3,997.6 873.7,996.3 874.3,995.5 875.1,993.8 875.8,993.7 876.4,991.1 876.8,990.1 877.6,987.9 878.3,987.0 878.8,986.5 880.2,985.0 880.3,983.7 880.9,981.9 881.5,979.5 882.4,979.4 883.0,977.8 883.6,975.5 884.3,973.8 885.0,973.6 885.5,974.0 886.2,969.8 886.7,970.4 886.8,969.6 886.8,964.3 887.2,966.3 887.4,965.1 887.5,964.0 888.0,963.0 888.0,960.4 888.2,959.4 888.3,955.3 888.4,956.8 888.5,955.6 889.5,956.5 890.8,953.6 891.8,955.5 893.0,951.9 893.8,951.6 894.2,951.3 895.2,947.9 895.7,944.8 896.6,944.4 897.3,944.1 897.8,943.5 899.1,944.0 900.7,941.9 902.1,944.3 903.5,941.6 905.0,943.5 906.3,941.8 907.6,942.8 909.0,942.1 910.0,942.5 911.7,941.7 912.4,942.2 913.2,946.6 913.7,942.8 914.8,945.0 915.4,947.2 916.1,944.6 916.2,945.9 917.0,944.1 917.4,942.0 917.6,940.7 918.5,940.7 918.7,938.9 919.3,938.9 919.6,936.0 920.2,937.1 920.8,942.0 921.4,941.4 921.6,942.0 922.2,940.5 923.0,943.0 923.7,944.4 924.7,945.8 925.6,945.6 927.0,947.6 927.4,948.0 927.9,952.1 928.3,951.4 928.4,954.5 928.5,951.8 929.1,951.6 929.2,957.3 929.6,957.2 930.0,958.3 931.3,957.2 932.3,958.5 933.2,959.5 934.5,959.9 935.7,961.0 936.7,961.4 938.3,960.0 939.2,956.8 940.4,957.4 940.5,957.3 940.9,961.4 941.3,961.5 941.2,963.2 941.6,965.2 942.1,964.8 942.4,964.2 942.2,968.5 942.8,967.3 943.9,970.0 945.4,970.2 946.2,971.6 946.9,973.0 947.2,973.0 947.9,975.7 947.6,980.4 948.0,979.2 948.2,978.8 948.2,981.2 949.1,983.4 949.0,985.7 949.1,987.5 949.6,987.0 950.7,986.6 952.0,989.2 952.9,989.5 954.3,991.9 955.2,990.7 955.4,988.4 956.4,992.9 956.2,995.2 956.6,997.3 956.8,996.9 957.2,1000.6 957.7,1001.3 958.4,999.4 958.5,1003.4 958.9,1003.7 959.5,1004.9 960.3,1007.7 960.6,1007.7 961.5,1009.5 962.0,1009.1 962.6,1012.0 964.5,1012.0 965.7,1012.6 967.2,1013.0 967.5,1014.7 967.6,1016.4 968.4,1017.9 968.6,1019.5 968.8,1022.7 968.9,1022.2 969.6,1023.5 969.5,1023.0 970.0,1026.0 970.8,1026.0 970.9,1029.5 971.4,1027.7 971.5,1031.4 972.2,1032.5 972.8,1034.5 973.0,1033.3 973.7,1037.0 974.7,1037.3 975.1,1036.6 976.3,1038.8 977.0,1041.8 977.1,1044.0 977.7,1045.2 977.6,1041.7 978.0,1046.6 978.4,1049.6 978.9,1048.2 979.2,1050.8 979.3,1053.8 979.4,1055.0 980.2,1052.0 980.3,1056.0 980.6,1057.5 981.0,1057.9 981.8,1060.0 982.5,1058.1 983.5,1063.6 983.8,1064.8 985.0,1062.6 985.2,1065.3 986.0,1066.8 986.6,1068.4 986.6,1071.5 987.2,1072.1 988.1,1071.3 987.9,1075.0 988.3,1075.8 988.6,1080.3 989.1,1078.2 989.3,1079.6 989.3,1080.0 990.1,1080.0 990.3,1083.0 990.9,1084.2 991.4,1089.1 992.3,1087.4 992.5,1088.4 993.2,1089.5 993.9,1094.4 994.8,1094.6 995.4,1097.5 995.6,1093.1 996.3,1096.2 997.0,1097.8 997.7,1097.8 998.5,1102.3 999.1,1100.7 1000.1,1101.8 1000.4,1103.9 1001.2,1104.7 1001.4,1108.6 1002.6,1107.9 1003.3,1108.9 1003.7,1112.0 1004.7,1111.2 1006.0,1110.2 1006.0,1113.2 1006.9,1114.3 1007.1,1118.4 1007.8,1117.1 1008.9,1118.3 1009.6,1119.3" fill="none" stroke="#0343df" stroke-width="8.0" stroke-linecap="round" stroke-linejoin="round"/>
<polyline points="563.0,1019.0 564.0,1020.6 564.9,1021.4 566.2,1022.4 567.3,1021.5 568.0,1022.7 568.8,1024.4 570.0,1026.1 571.0,1026.5" fill="none" stroke="#0343df" stroke-width="8.0" stroke-linecap="round" stroke-linejoin="round"/>
<polyline points="533.9,1033.5 535.1,1031.9 536.9,1030.3 538.2,1033.5" fill="none" stroke="#0343df" stroke-width="8.0" stroke-linecap="round" stroke-linejoin="round"/>
<polyline points="740.4,1077.8 742.0,1075.5 743.2,1078.3 745.1,1078.3 746.0,1079.0 747.8,1078.7" fill="none" stroke="#0343df" stroke-width="8.0" stroke-linecap="round" stroke-linejoin="round"/>
<polyline points="808.0,1064.8 808.1,1064.8" fill="none" stroke="#0343df" stroke-width="8.0" stroke-linecap="round" stroke-linejoin="round"/>
<polyline points="1110.0,1136.0 1111.4,1139.0 1112.6,1135.0 1113.4,1135.3 1113.9,1133.1 1114.5,1131.4 1114.9,1128.9 1115.4,1129.4 1116.3,1130.2 1116.9,1127.1 1117.4,1125.3 1118.6,1124.6 1119.1,1125.2 1120.5,1123.2 1121.5,1126.2 1122.9,1121.8 1123.4,1121.6 1124.7,1119.3 1125.6,1120.3 1126.5,1117.6 1128.1,1115.6 1128.9,1116.2 1130.1,1114.4 1131.1,1117.2 1132.0,1113.2 1132.7,1111.1 1134.2,1110.4 1134.8,1112.4 1136.4,1110.9 1137.4,1109.3 1138.0,1103.8 1139.2,1106.0 1140.8,1104.2 1142.1,1105.9 1143.2,1104.4 1145.3,1105.6 1146.0,1103.8 1147.7,1103.5 1148.9,1103.7 1150.3,1102.0 1151.3,1102.6 1152.3,1102.2 1153.9,1099.0 1155.0,1098.7 1156.3,1099.7 1157.5,1096.5 1159.3,1102.5 1160.6,1101.0 1162.0,1100.0 1163.4,1101.8 1164.7,1103.6 1165.9,1104.2 1166.8,1103.7 1168.1,1103.1 1169.6,1104.5 1170.7,1104.7 1172.1,1106.6 1172.9,1108.3 1174.0,1107.1 1175.6,1107.9 1176.9,1108.9 1178.0,1109.6 1178.8,1111.7 1180.0,1110.0 1181.1,1112.1 1182.2,1112.2 1183.2,1113.6 1184.5,1114.2 1185.2,1115.6 1186.7,1116.1 1187.9,1120.2 1188.8,1117.7 1189.9,1117.1 1191.2,1118.8 1192.5,1119.3 1193.6,1121.6 1194.1,1121.6 1194.8,1123.2 1195.9,1121.9 1196.7,1125.3 1197.7,1126.4 1198.6,1126.5 1199.9,1126.5 1201.3,1123.9 1202.8,1125.7 1204.1,1126.8 1206.1,1127.5 1207.0,1125.3 1208.2,1124.3 1209.4,1125.6 1210.7,1128.8 1211.9,1125.7 1213.4,1128.5 1214.3,1129.0 1215.8,1128.5 1217.3,1128.9 1218.0,1132.6 1218.6,1131.1 1220.0,1135.4 1221.6,1133.8 1222.9,1133.0 1223.6,1132.5 1225.2,1134.5 1226.4,1136.2" fill="none" stroke="#0343df" stroke-width="8.0" stroke-linecap="round" stroke-linejoin="round"/>
<polyline points="1232.5,1130.6 1232.6,1130.6" fill="none" stroke="#0343df" stroke-width="8.0" stroke-linecap="round" stroke-linejoin="round"/>
<polyline points="351.2,1110.2 351.7,1108.9 351.7,1108.7 352.4,1106.6 352.8,1107.0 353.3,1105.1 353.4,1101.2 353.6,1100.1 353.6,1101.5 354.7,1097.8 355.0,1096.3 355.6,1094.4 356.0,1094.7 356.0,1094.8 356.8,1091.7 357.0,1088.5 358.1,1087.2 358.1,1087.3 358.6,1085.2 359.3,1080.3 359.7,1083.0 360.0,1079.8 360.3,1082.4 360.6,1077.7 360.9,1076.6 361.4,1076.0 361.8,1075.0 361.8,1074.5 361.9,1069.8 363.0,1069.6 363.0,1069.1 362.9,1068.6 363.0,1065.2 363.4,1064.5 363.9,1066.7 363.7,1061.1 364.2,1061.0 364.7,1060.4 365.0,1057.1 365.2,1056.7 365.0,1056.0 365.3,1054.8 365.8,1052.2 366.7,1053.4 366.6,1050.3 366.6,1050.2 367.2,1045.6 367.0,1045.5 367.6,1045.3 367.9,1042.6 367.9,1039.9 368.5,1040.0 368.8,1040.2 368.6,1033.5 369.1,1034.6 369.4,1030.3 369.5,1033.1 369.6,1032.3 370.0,1030.5 370.5,1030.7 370.7,1028.0 370.7,1026.0 371.0,1025.5 371.3,1022.2 371.5,1023.3 371.6,1018.9 372.1,1018.1 371.8,1017.5 372.1,1017.0 372.6,1015.2 373.2,1015.4 373.1,1009.0 373.4,1011.0 373.7,1007.9 374.5,1010.6 374.9,1007.9 375.3,1006.6 375.6,1005.5 376.0,1001.1 376.6,1003.8 377.0,1000.0 377.6,996.1 378.7,997.7 379.2,995.4 379.9,997.1 380.3,994.4 381.2,990.8 381.8,990.7 382.4,992.9 382.6,995.0 383.1,996.2 384.0,996.1 384.2,995.8 384.4,998.2 385.4,1000.3 386.1,1001.0 386.4,1001.9 387.1,1004.7 387.9,1004.4 388.4,1007.2 389.3,1009.8 390.0,1007.4 391.0,1009.3 392.3,1007.9 393.3,1006.9 394.7,1007.8 396.4,1008.8 397.5,1007.4 398.2,1007.3 398.3,1003.8 399.3,1001.9 400.2,1001.1 400.5,1002.1 401.2,999.0 402.0,998.0 402.5,1000.5 403.6,1002.4 404.9,1002.3 405.2,1001.2 406.4,1003.2 407.0,1004.9 407.7,1005.6 408.1,1005.4 410.0,1005.0 411.1,1004.6 412.3,1003.7 412.4,1003.3 412.9,1001.3 413.7,1000.0 413.4,998.9 413.7,997.3 414.6,994.1 414.6,993.0 415.0,993.5 415.4,991.2 415.2,989.0 416.0,988.9 416.5,988.9 416.7,988.1 417.5,982.8 418.6,984.5 418.6,983.2 419.4,981.5 420.1,980.7 420.8,982.9 421.3,984.6 421.3,985.9 422.1,988.3 422.5,987.9 423.4,990.7 424.6,991.1 425.6,993.2 426.6,996.5 428.0,994.4 428.4,996.3 429.1,998.6 429.5,997.3 430.2,1000.6 430.7,1004.1 431.4,1004.4 431.8,1003.7 433.0,1006.4 433.6,1008.4 434.5,1007.3 435.8,1009.6 436.4,1009.3 437.4,1008.2 438.6,1009.8 440.0,1007.4 440.1,1008.9 440.3,1009.6 440.8,1010.3 440.9,1012.5 441.0,1012.8 441.6,1013.7 441.3,1016.9 441.8,1017.9 442.0,1020.4 441.9,1021.1 442.4,1022.3 443.3,1021.7 443.2,1026.7 443.4,1027.0 444.0,1028.7 443.7,1029.9 444.5,1031.3 444.7,1033.3 445.5,1034.5 446.4,1035.3 447.6,1035.2 448.4,1037.0 448.4,1040.4 449.1,1038.8 449.0,1041.3 449.7,1043.5 450.0,1043.6 450.2,1043.5 450.4,1046.4 451.1,1046.6 451.2,1050.0 452.3,1052.6 452.4,1051.8 453.3,1054.5 454.0,1052.8 454.5,1057.4 455.4,1058.6 455.9,1059.3 456.2,1061.2 456.5,1064.7 457.2,1064.3 457.2,1065.1 457.7,1066.7 458.9,1067.7 460.4,1071.5 461.4,1067.8 462.3,1070.4 462.7,1071.1 462.7,1076.1 462.6,1072.7 463.0,1077.3 463.3,1074.7 463.6,1079.9 464.0,1080.6 464.2,1081.0 464.2,1083.3 464.8,1086.4 464.9,1085.4 465.7,1086.2 465.6,1088.7 466.3,1091.3 466.5,1092.0 467.0,1092.6 467.1,1092.3 468.0,1094.2 467.4,1097.1 467.9,1099.0 467.7,1097.6 468.8,1101.0 468.8,1101.9 469.2,1105.3 470.3,1103.9 470.9,1106.5 471.0,1105.7 471.9,1106.5 472.5,1109.3 473.3,1109.2 474.9,1110.8 475.7,1107.8 477.0,1112.0" fill="none" stroke="#0343df" stroke-width="8.0" stroke-linecap="round" stroke-linejoin="round"/>
<polyline points="469.0,1093.5 470.5,1094.4 471.6,1097.3 472.7,1095.0 474.4,1095.4" fill="none" stroke="#0343df" stroke-width="8.0" stroke-linecap="round" stroke-linejoin="round"/>
<polyline points="1009.6,1115.6 1010.4,1113.7 1011.8,1112.5 1012.5,1110.1 1013.9,1111.0 1014.7,1108.9 1015.4,1109.4 1017.0,1108.4 1017.8,1107.2 1019.4,1105.9 1020.1,1106.8 1021.1,1104.7 1022.0,1102.3 1022.9,1104.1 1024.6,1101.1 1025.4,1101.0 1026.1,1099.2 1027.5,1100.0 1027.6,1098.3 1028.7,1094.8 1029.3,1095.9 1029.9,1094.9 1030.9,1092.7 1031.4,1091.4 1032.3,1091.8 1033.4,1090.2 1034.7,1089.2 1035.2,1085.9 1036.3,1087.3 1037.3,1086.6 1038.2,1085.3 1039.1,1084.8 1040.0,1083.0 1041.2,1081.4 1042.5,1082.5 1043.8,1081.3 1045.5,1082.1 1046.7,1081.4 1048.2,1080.2 1049.6,1080.5 1050.7,1079.5 1051.5,1078.4 1052.6,1080.6 1053.7,1076.3 1054.5,1076.3 1055.9,1075.5 1056.9,1074.5 1057.8,1073.9 1059.1,1076.4 1060.3,1076.9 1062.0,1075.2 1062.8,1078.5 1064.0,1079.3 1064.9,1081.6 1066.4,1081.4 1067.9,1083.5 1068.8,1081.5 1070.2,1083.0 1071.0,1082.3 1072.6,1084.4 1072.9,1087.0 1074.6,1085.7 1075.3,1086.1 1076.3,1089.0 1076.6,1090.0 1077.5,1089.8 1078.5,1093.2 1079.1,1095.6 1079.8,1094.6 1080.8,1099.4 1081.8,1098.8 1082.1,1096.8 1083.1,1099.7 1083.5,1101.0 1085.0,1102.2 1085.2,1104.7 1086.7,1103.5 1087.7,1105.3 1088.8,1103.9 1089.8,1108.0 1090.8,1108.4 1091.2,1111.5 1092.1,1108.0 1093.1,1111.6 1093.5,1113.0 1094.6,1114.6 1094.7,1114.8 1095.6,1117.8 1096.0,1119.5 1096.8,1119.3 1097.5,1120.8 1098.7,1122.2 1099.5,1123.4 1100.2,1124.5 1101.2,1123.6 1101.7,1127.0 1102.9,1127.7 1103.9,1129.0 1105.0,1130.3 1105.7,1131.5 1106.6,1134.1 1107.7,1132.6" fill="none" stroke="#0343df" stroke-width="8.0" stroke-linecap="round" stroke-linejoin="round"/>
<polyline points="1011.0,1118.0 1011.2,1119.1 1012.2,1118.4 1012.5,1121.5 1013.0,1123.4 1013.3,1125.3" fill="none" stroke="#0343df" stroke-width="8.0" stroke-linecap="round" stroke-linejoin="round"/>
<polyline points="1021.8,1119.7 1021.9,1119.7" fill="none" stroke="#0343df" stroke-width="8.0" stroke-linecap="round" stroke-linejoin="round"/>
<path d="M229.0,1139.8 C235.2,1139.6 255.2,1139.0 266.0,1138.5 C276.8,1138.0 287.0,1137.6 293.8,1137.0 C300.6,1136.4 303.1,1136.0 306.8,1134.8 C310.5,1133.6 312.9,1132.2 316.0,1129.6 C319.1,1127.0 322.2,1123.7 325.3,1119.4 C328.4,1115.1 331.5,1109.4 334.6,1103.7 C337.7,1098.0 340.7,1091.7 343.8,1085.2 C346.9,1078.7 349.9,1071.9 353.0,1064.8 C356.1,1057.7 359.2,1050.0 362.3,1042.6 C365.4,1035.2 368.5,1027.8 371.6,1020.4 C374.7,1013.0 377.8,1005.4 380.9,998.0 C384.0,990.6 386.9,982.8 390.0,976.0 C393.1,969.2 396.3,963.0 399.4,957.4 C402.5,951.8 405.5,947.1 408.6,942.6 C411.7,938.1 414.8,933.7 417.9,930.6 C421.0,927.5 424.4,925.3 427.0,924.0 C429.6,922.7 431.1,922.4 433.6,922.6 C436.1,922.8 439.1,923.4 442.0,925.0 C444.9,926.6 447.9,929.2 451.0,932.4 C454.1,935.6 457.4,939.6 460.5,944.4 C463.6,949.2 466.6,955.0 469.7,961.0 C472.8,967.0 476.2,973.8 479.3,980.4 C482.4,987.0 485.4,993.9 488.5,1000.7 C491.6,1007.5 494.7,1014.5 497.8,1021.0 C500.9,1027.5 503.9,1033.7 507.0,1039.6 C510.1,1045.5 513.2,1051.2 516.3,1056.3 C519.4,1061.4 522.5,1066.0 525.6,1070.2 C528.7,1074.4 531.7,1078.1 534.8,1081.3 C537.9,1084.5 540.9,1087.0 544.0,1089.6 C547.1,1092.2 550.2,1094.8 553.3,1097.0 C556.4,1099.2 559.5,1100.9 562.6,1102.6 C565.7,1104.2 568.8,1105.7 571.9,1106.9 C575.0,1108.1 577.9,1108.8 581.0,1109.6 C584.1,1110.4 587.3,1111.0 590.4,1111.5 C593.5,1112.0 596.5,1112.3 599.6,1112.4 C602.7,1112.5 605.8,1112.4 608.9,1112.2 C612.0,1112.0 614.9,1111.6 618.0,1111.3 C621.1,1111.0 624.3,1110.6 627.4,1110.4 C630.5,1110.2 633.6,1110.2 636.7,1110.4 C639.8,1110.6 642.8,1111.0 645.9,1111.5 C649.0,1112.0 652.1,1112.7 655.2,1113.7 C658.3,1114.7 661.3,1116.0 664.4,1117.4 C667.5,1118.8 670.6,1120.5 673.7,1122.0 C676.8,1123.5 679.9,1125.0 683.0,1126.7 C686.1,1128.4 689.1,1130.5 692.2,1132.2 C695.3,1134.0 698.4,1135.6 701.5,1137.2 C704.6,1138.8 706.9,1140.3 710.7,1141.9 C714.5,1143.5 717.9,1144.8 724.2,1146.6 C730.5,1148.4 740.3,1150.5 748.4,1152.7 C756.5,1154.9 766.6,1158.0 772.7,1160.0 C778.8,1162.0 780.8,1163.4 784.8,1164.8 C788.8,1166.2 792.9,1167.0 796.9,1168.4 C800.9,1169.8 805.0,1171.6 809.0,1173.3 C813.0,1175.0 817.0,1176.4 821.0,1178.6 C825.0,1180.8 829.2,1183.4 833.2,1186.6 C837.2,1189.8 841.3,1193.5 845.3,1197.5 C849.3,1201.5 853.4,1206.0 857.4,1210.8 C861.4,1215.6 865.5,1221.1 869.5,1226.6 C873.5,1232.0 877.6,1237.8 881.6,1243.5 C885.6,1249.2 889.7,1255.0 893.7,1260.5 C897.8,1266.0 901.9,1271.4 905.9,1276.2 C909.9,1281.0 914.0,1285.8 918.0,1289.5 C922.0,1293.2 926.0,1296.4 930.0,1298.7 C934.0,1301.0 938.6,1302.6 942.2,1303.3 C945.9,1304.0 948.7,1303.8 951.9,1302.9 C955.1,1302.0 958.4,1300.2 961.6,1298.0 C964.8,1295.8 968.0,1293.1 971.2,1289.5 C974.4,1285.9 977.8,1281.4 980.9,1276.2 C984.0,1271.0 986.7,1265.0 989.9,1258.6 C993.1,1252.2 996.6,1244.7 999.9,1237.7 C1003.2,1230.7 1006.6,1223.4 1009.9,1216.7 C1013.2,1210.0 1016.5,1203.5 1019.8,1197.8 C1023.1,1192.1 1026.5,1187.4 1029.8,1182.8 C1033.1,1178.2 1036.5,1174.0 1039.8,1169.9 C1043.1,1165.8 1046.4,1161.6 1049.7,1158.4 C1053.0,1155.2 1056.4,1153.0 1059.7,1150.9 C1063.0,1148.8 1066.4,1147.3 1069.7,1146.0 C1073.0,1144.7 1076.3,1143.6 1079.6,1143.0 C1082.9,1142.4 1086.2,1142.3 1089.6,1142.5 C1093.0,1142.7 1097.1,1143.7 1100.0,1144.3 C1102.9,1144.9 1104.1,1145.2 1107.0,1146.0 C1109.9,1146.8 1113.7,1148.1 1117.4,1149.0 C1121.2,1149.9 1124.7,1150.8 1129.5,1151.5 C1134.3,1152.2 1140.4,1153.5 1146.5,1153.2 C1152.6,1152.9 1160.7,1150.9 1165.9,1149.5 C1171.2,1148.1 1174.0,1146.5 1178.0,1144.7 C1182.0,1142.9 1186.0,1140.6 1190.0,1138.6 C1194.0,1136.6 1198.2,1134.6 1202.2,1132.6 C1206.2,1130.6 1210.3,1128.4 1214.3,1126.5 C1218.3,1124.6 1222.4,1122.6 1226.4,1121.0 C1230.4,1119.4 1234.5,1118.1 1238.5,1116.8 C1242.5,1115.5 1246.6,1114.2 1250.6,1113.2 C1254.6,1112.2 1258.7,1111.7 1262.7,1111.0 C1266.7,1110.3 1270.1,1109.9 1274.8,1109.3 C1279.5,1108.7 1288.3,1107.9 1291.0,1107.6" fill="none" stroke="#05056a" stroke-width="2.6" stroke-linejoin="round"/>
<line x1="348.8" y1="1105.0" x2="348.8" y2="1177.0" stroke="#ff0000" stroke-width="1.6" stroke-dasharray="1.5 2.5"/>
<line x1="476.5" y1="1115.0" x2="476.5" y2="1167.0" stroke="#ff0000" stroke-width="1.6" stroke-dasharray="1.5 2.5"/>
<line x1="1008.8" y1="1117.0" x2="1008.8" y2="1165.0" stroke="#ff0000" stroke-width="1.6" stroke-dasharray="1.5 2.5"/>
<polyline points="351.2,1110.2 351.7,1108.9 351.7,1108.7 352.4,1106.6 352.8,1107.0 353.3,1105.1 353.4,1101.2 353.6,1100.1 353.6,1101.5 354.7,1097.8 355.0,1096.3 355.6,1094.4 356.0,1094.7 356.0,1094.8 356.8,1091.7 357.0,1088.5 358.1,1087.2 358.1,1087.3 358.6,1085.2 359.3,1080.3 359.7,1083.0 360.0,1079.8 360.3,1082.4 360.6,1077.7 360.9,1076.6 361.4,1076.0 361.8,1075.0 361.8,1074.5 361.9,1069.8 363.0,1069.6 363.0,1069.1 362.9,1068.6 363.0,1065.2 363.4,1064.5 363.9,1066.7 363.7,1061.1 364.2,1061.0 364.7,1060.4 365.0,1057.1 365.2,1056.7 365.0,1056.0 365.3,1054.8 365.8,1052.2 366.7,1053.4 366.6,1050.3 366.6,1050.2 367.2,1045.6 367.0,1045.5 367.6,1045.3 367.9,1042.6 367.9,1039.9 368.5,1040.0 368.8,1040.2 368.6,1033.5 369.1,1034.6 369.4,1030.3 369.5,1033.1 369.6,1032.3 370.0,1030.5 370.5,1030.7 370.7,1028.0 370.7,1026.0 371.0,1025.5 371.3,1022.2 371.5,1023.3 371.6,1018.9 372.1,1018.1 371.8,1017.5 372.1,1017.0 372.6,1015.2 373.2,1015.4 373.1,1009.0 373.4,1011.0 373.7,1007.9 374.5,1010.6 374.9,1007.9 375.3,1006.6 375.6,1005.5 376.0,1001.1 376.6,1003.8 377.0,1000.0 377.6,996.1 378.7,997.7 379.2,995.4 379.9,997.1 380.3,994.4 381.2,990.8 381.8,990.7 382.4,992.9 382.6,995.0 383.1,996.2 384.0,996.1 384.2,995.8 384.4,998.2 385.4,1000.3 386.1,1001.0 386.4,1001.9 387.1,1004.7 387.9,1004.4 388.4,1007.2 389.3,1009.8 390.0,1007.4 391.0,1009.3 392.3,1007.9 393.3,1006.9 394.7,1007.8 396.4,1008.8 397.5,1007.4 398.2,1007.3 398.3,1003.8 399.3,1001.9 400.2,1001.1 400.5,1002.1 401.2,999.0 402.0,998.0 402.5,1000.5 403.6,1002.4 404.9,1002.3 405.2,1001.2 406.4,1003.2 407.0,1004.9 407.7,1005.6 408.1,1005.4 410.0,1005.0 411.1,1004.6 412.3,1003.7 412.4,1003.3 412.9,1001.3 413.7,1000.0 413.4,998.9 413.7,997.3 414.6,994.1 414.6,993.0 415.0,993.5 415.4,991.2 415.2,989.0 416.0,988.9 416.5,988.9 416.7,988.1 417.5,982.8 418.6,984.5 418.6,983.2 419.4,981.5 420.1,980.7 420.8,982.9 421.3,984.6 421.3,985.9 422.1,988.3 422.5,987.9 423.4,990.7 424.6,991.1 425.6,993.2 426.6,996.5 428.0,994.4 428.4,996.3 429.1,998.6 429.5,997.3 430.2,1000.6 430.7,1004.1 431.4,1004.4 431.8,1003.7 433.0,1006.4 433.6,1008.4 434.5,1007.3 435.8,1009.6 436.4,1009.3 437.4,1008.2 438.6,1009.8 440.0,1007.4 440.1,1008.9 440.3,1009.6 440.8,1010.3 440.9,1012.5 441.0,1012.8 441.6,1013.7 441.3,1016.9 441.8,1017.9 442.0,1020.4 441.9,1021.1 442.4,1022.3 443.3,1021.7 443.2,1026.7 443.4,1027.0 444.0,1028.7 443.7,1029.9 444.5,1031.3 444.7,1033.3 445.5,1034.5 446.4,1035.3 447.6,1035.2 448.4,1037.0 448.4,1040.4 449.1,1038.8 449.0,1041.3 449.7,1043.5 450.0,1043.6 450.2,1043.5 450.4,1046.4 451.1,1046.6 451.2,1050.0 452.3,1052.6 452.4,1051.8 453.3,1054.5 454.0,1052.8 454.5,1057.4 455.4,1058.6 455.9,1059.3 456.2,1061.2 456.5,1064.7 457.2,1064.3 457.2,1065.1 457.7,1066.7 458.9,1067.7 460.4,1071.5 461.4,1067.8 462.3,1070.4 462.7,1071.1 462.7,1076.1 462.6,1072.7 463.0,1077.3 463.3,1074.7 463.6,1079.9 464.0,1080.6 464.2,1081.0 464.2,1083.3 464.8,1086.4 464.9,1085.4 465.7,1086.2 465.6,1088.7 466.3,1091.3 466.5,1092.0 467.0,1092.6 467.1,1092.3 468.0,1094.2 467.4,1097.1 467.9,1099.0 467.7,1097.6 468.8,1101.0 468.8,1101.9 469.2,1105.3 470.3,1103.9 470.9,1106.5 471.0,1105.7 471.9,1106.5 472.5,1109.3 473.3,1109.2 474.9,1110.8 475.7,1107.8 477.0,1112.0" fill="none" stroke="#ff0000" stroke-width="8.0" stroke-linecap="round" stroke-linejoin="round"/>
<polyline points="469.0,1093.5 470.5,1094.4 471.6,1097.3 472.7,1095.0 474.4,1095.4" fill="none" stroke="#ff0000" stroke-width="8.0" stroke-linecap="round" stroke-linejoin="round"/>
<polyline points="1009.6,1115.6 1010.4,1113.7 1011.8,1112.5 1012.5,1110.1 1013.9,1111.0 1014.7,1108.9 1015.4,1109.4 1017.0,1108.4 1017.8,1107.2 1019.4,1105.9 1020.1,1106.8 1021.1,1104.7 1022.0,1102.3 1022.9,1104.1 1024.6,1101.1 1025.4,1101.0 1026.1,1099.2 1027.5,1100.0 1027.6,1098.3 1028.7,1094.8 1029.3,1095.9 1029.9,1094.9 1030.9,1092.7 1031.4,1091.4 1032.3,1091.8 1033.4,1090.2 1034.7,1089.2 1035.2,1085.9 1036.3,1087.3 1037.3,1086.6 1038.2,1085.3 1039.1,1084.8 1040.0,1083.0 1041.2,1081.4 1042.5,1082.5 1043.8,1081.3 1045.5,1082.1 1046.7,1081.4 1048.2,1080.2 1049.6,1080.5 1050.7,1079.5 1051.5,1078.4 1052.6,1080.6 1053.7,1076.3 1054.5,1076.3 1055.9,1075.5 1056.9,1074.5 1057.8,1073.9 1059.1,1076.4 1060.3,1076.9 1062.0,1075.2 1062.8,1078.5 1064.0,1079.3 1064.9,1081.6 1066.4,1081.4 1067.9,1083.5 1068.8,1081.5 1070.2,1083.0 1071.0,1082.3 1072.6,1084.4 1072.9,1087.0 1074.6,1085.7 1075.3,1086.1 1076.3,1089.0 1076.6,1090.0 1077.5,1089.8 1078.5,1093.2 1079.1,1095.6 1079.8,1094.6 1080.8,1099.4 1081.8,1098.8 1082.1,1096.8 1083.1,1099.7 1083.5,1101.0 1085.0,1102.2 1085.2,1104.7 1086.7,1103.5 1087.7,1105.3 1088.8,1103.9 1089.8,1108.0 1090.8,1108.4 1091.2,1111.5 1092.1,1108.0 1093.1,1111.6 1093.5,1113.0 1094.6,1114.6 1094.7,1114.8 1095.6,1117.8 1096.0,1119.5 1096.8,1119.3 1097.5,1120.8 1098.7,1122.2 1099.5,1123.4 1100.2,1124.5 1101.2,1123.6 1101.7,1127.0 1102.9,1127.7 1103.9,1129.0 1105.0,1130.3 1105.7,1131.5 1106.6,1134.1 1107.7,1132.6" fill="none" stroke="#ff0000" stroke-width="8.0" stroke-linecap="round" stroke-linejoin="round"/>
<polyline points="1011.0,1118.0 1011.2,1119.1 1012.2,1118.4 1012.5,1121.5 1013.0,1123.4 1013.3,1125.3" fill="none" stroke="#ff0000" stroke-width="8.0" stroke-linecap="round" stroke-linejoin="round"/>
<polyline points="1021.8,1119.7 1021.9,1119.7" fill="none" stroke="#ff0000" stroke-width="8.0" stroke-linecap="round" stroke-linejoin="round"/>
<polyline points="294.7,1228.3 295.7,1225.1 296.1,1227.1 296.6,1224.8 297.5,1223.7 298.7,1225.9 300.3,1224.0 301.7,1225.7 303.0,1224.6 304.1,1225.6 304.9,1225.6 306.4,1223.9 307.4,1228.3 308.8,1228.7 309.6,1229.8 311.1,1229.9 312.3,1227.6 313.8,1228.5 315.0,1228.3 315.4,1226.3 316.4,1224.6 317.1,1222.8 317.7,1222.7 318.5,1223.2 318.9,1221.0 319.7,1219.0 321.3,1218.2 322.2,1216.3 323.2,1218.4 324.4,1215.3 325.8,1216.3 326.9,1218.1 327.8,1215.0 329.0,1217.2 330.0,1217.7 330.2,1214.7 331.4,1213.1 332.0,1213.4 332.7,1210.7 333.7,1208.0 334.5,1210.4 335.3,1206.2 336.4,1206.1 336.4,1204.9 336.9,1203.7 337.4,1202.2 338.2,1200.3 338.5,1199.8 338.5,1197.8 338.3,1197.1 339.3,1197.4 339.7,1195.2 340.0,1193.1 340.0,1192.1 340.9,1191.2 341.6,1187.4 342.2,1187.9 342.8,1189.1 343.5,1186.8 343.8,1184.0 344.8,1184.4 345.4,1182.3 347.0,1179.6 347.4,1179.8 348.4,1178.3 348.7,1177.0 349.4,1174.7 349.8,1174.9 350.5,1174.1 351.2,1171.8" fill="none" stroke="#ff0000" stroke-width="8.0" stroke-linecap="round" stroke-linejoin="round"/>
<polyline points="477.0,1170.0 478.0,1169.8 478.1,1167.5 478.7,1168.6 479.0,1165.5 479.5,1167.8 479.9,1169.1 480.6,1169.5 481.1,1169.8 481.7,1176.0 482.7,1173.3 483.0,1174.0 483.4,1174.9 484.2,1176.4 484.5,1177.5 485.0,1177.0 485.6,1180.5 486.5,1181.2 487.0,1182.1 487.6,1184.0 487.8,1185.3 489.4,1186.6 490.6,1188.3 491.2,1190.7 492.2,1191.1 492.7,1186.4 494.0,1190.5 494.7,1192.0 495.1,1195.4 495.4,1194.1 495.7,1195.6 496.3,1197.2 497.0,1196.2 497.8,1199.8 498.5,1202.0 498.4,1203.7 499.3,1205.3 499.9,1203.8 500.4,1207.2 501.1,1208.3 501.5,1209.0 502.1,1211.0 502.7,1212.4 502.6,1213.2 503.2,1216.1 503.8,1215.1 503.8,1217.6 504.7,1219.1 505.2,1220.1 505.8,1223.4 506.2,1223.2 506.6,1224.4 507.0,1226.1 507.6,1223.6 508.2,1226.7 508.5,1229.9 508.9,1230.3 510.4,1227.1 511.4,1228.4 513.2,1228.7 514.4,1228.5 515.3,1227.8 516.5,1229.1 517.1,1231.7 517.8,1233.1 518.4,1235.2 519.3,1233.7 520.0,1236.8 520.5,1237.8 521.3,1239.4 521.9,1240.3 522.0,1243.4 523.0,1242.3 523.7,1244.2 524.1,1248.0 524.6,1247.0" fill="none" stroke="#ff0000" stroke-width="8.0" stroke-linecap="round" stroke-linejoin="round"/>
<polyline points="519.0,1253.5 519.8,1252.9 520.4,1254.5 521.3,1257.4 522.6,1258.0 523.0,1258.4 524.0,1260.7 524.6,1261.8 525.9,1262.2 526.9,1260.6 527.8,1261.1 529.3,1258.1 529.8,1259.6 530.9,1260.9 531.7,1263.5 532.5,1262.4 533.5,1265.1 534.0,1267.9 534.8,1269.3 535.7,1267.4 536.5,1266.6 537.5,1267.8 539.1,1270.1 540.3,1269.6 541.3,1271.1 542.3,1272.5 542.7,1274.1 543.3,1274.5 544.1,1274.0 545.0,1276.6 545.1,1276.7 545.7,1276.8 546.8,1275.8 546.8,1271.8 547.7,1272.4 548.0,1269.3 548.2,1267.8 548.7,1265.5 550.0,1267.8 551.0,1266.4 552.5,1271.0 553.3,1268.3 555.0,1267.4 556.0,1268.8 557.4,1267.3 558.9,1270.1 560.2,1269.8 561.3,1269.1 562.6,1269.5 564.3,1270.3 564.3,1267.2 566.3,1266.4 566.6,1264.6 566.8,1264.0 567.2,1261.1 567.3,1261.7 568.1,1259.1 568.0,1258.5 569.3,1255.3 571.2,1259.5 572.3,1258.4 573.9,1260.4 575.6,1259.0 576.0,1258.6 577.2,1257.3 577.3,1254.6 578.3,1253.2 579.2,1253.5 579.6,1252.2 580.1,1250.0 581.0,1249.8 581.9,1248.3 582.2,1247.7 582.7,1247.2 583.4,1246.0 584.1,1245.8 584.9,1242.3 585.2,1244.4 586.1,1238.4 586.7,1238.7 587.9,1239.8 589.3,1238.7 590.6,1238.7 592.2,1240.5 593.5,1238.8 595.0,1239.9 596.1,1240.1 597.8,1238.7 598.2,1236.4 598.8,1236.9 599.3,1233.2 599.6,1233.8 600.0,1230.6 600.7,1231.7 601.1,1229.7 601.5,1227.6 602.3,1224.8 603.5,1226.4 604.3,1223.6 605.0,1223.4 606.2,1224.6 607.0,1221.0 608.5,1219.6 610.1,1222.2 611.5,1221.1 613.0,1218.7 614.4,1219.2 615.4,1219.2 616.1,1215.8 617.0,1215.3 618.2,1215.3 619.6,1213.7 620.0,1212.7 621.2,1214.2 621.0,1208.8 622.4,1209.3 622.9,1210.2 623.7,1206.3 625.0,1207.4 626.6,1204.3 628.1,1204.6 629.4,1205.4 631.0,1204.4 632.2,1204.1 633.5,1204.1 634.8,1203.6 635.8,1202.5 636.7,1200.7 638.4,1200.1 639.4,1198.9 640.5,1201.0 641.5,1197.4 643.1,1199.6 644.6,1195.6 645.9,1198.0 646.8,1198.2 648.4,1198.3 649.4,1200.2 651.3,1198.0 652.4,1200.7 653.7,1200.8 654.3,1198.7 654.9,1199.5 656.3,1196.0 657.0,1193.6 658.0,1194.2 658.6,1194.5 659.6,1196.4 660.5,1197.1 661.2,1198.1 662.3,1199.9 662.9,1199.7 663.5,1201.6 664.8,1201.2 666.0,1201.3 667.3,1204.3 668.9,1203.1 670.3,1203.7 671.4,1207.0 672.8,1206.3 673.7,1204.7 674.1,1202.5 675.1,1204.0 676.0,1203.3 676.4,1199.7 677.4,1199.0 678.0,1200.0 679.0,1200.1 680.0,1201.9 680.8,1203.7 682.3,1203.6 683.0,1205.3 683.9,1204.1 685.8,1206.1 687.2,1207.2 688.2,1204.3 689.8,1204.2 690.7,1208.6 692.2,1206.3 693.4,1207.6 694.4,1206.6 695.8,1203.0 696.8,1203.3 697.8,1202.6 698.7,1204.1 699.7,1204.4 700.6,1206.4 701.9,1206.5 702.7,1206.1 703.3,1209.0 704.5,1211.8 706.3,1210.5 707.5,1210.8 708.9,1212.5 710.2,1212.0 711.6,1215.0 713.2,1211.8 714.4,1212.7 715.4,1213.1 717.2,1210.5 718.6,1208.7 720.0,1210.0 721.3,1211.6 722.5,1209.4 723.9,1209.5 725.5,1210.1 726.9,1211.4 728.0,1212.2 729.3,1211.6 730.4,1214.3 731.7,1214.0 732.7,1212.8 734.3,1213.9 735.8,1212.6 736.7,1214.4 738.4,1215.4 739.3,1214.0 741.1,1213.9 742.6,1213.4 744.0,1215.3 745.2,1213.9 746.3,1217.6 747.7,1211.9 748.6,1212.1 750.1,1213.6 751.5,1212.6 752.7,1213.0 753.7,1213.7 755.2,1213.4 756.1,1213.1 757.8,1212.5 758.3,1216.3 759.8,1217.2 760.5,1215.9 762.1,1217.3 762.7,1214.6 764.3,1215.2 765.2,1216.9 766.3,1212.6 767.5,1211.8 768.9,1209.3 770.0,1214.1 771.6,1211.2 772.8,1209.8 773.7,1209.9 774.6,1210.1 775.5,1215.6 776.0,1211.6 776.8,1214.2 777.7,1217.3 778.8,1216.4 779.3,1219.0 780.6,1218.2 781.8,1221.0 783.6,1220.4 784.8,1221.0 785.3,1219.2 786.3,1216.9 787.2,1218.0 787.7,1216.6 788.5,1215.3 789.7,1213.9 791.3,1214.6 792.3,1217.5 793.7,1218.3 794.8,1220.7 796.0,1219.0 797.3,1217.7 798.5,1222.5 800.1,1218.8 801.5,1221.8 802.2,1223.6 802.1,1224.5 802.4,1225.6 802.8,1229.0 803.1,1228.5 803.4,1231.0 804.1,1228.1 804.3,1232.0 805.5,1231.9 807.0,1230.8 808.0,1227.8 809.2,1230.1 810.7,1228.3 811.9,1229.4 813.3,1227.2 815.0,1227.0 816.0,1229.5 817.3,1229.0 818.7,1226.2 820.0,1227.4 820.8,1228.9 821.4,1229.8 822.4,1232.3 823.1,1230.9 823.7,1233.9 824.6,1232.3 825.6,1235.7 827.1,1234.3 828.4,1233.9 829.7,1235.9 831.0,1233.0 832.2,1233.1 833.0,1233.7 834.6,1237.9 835.5,1237.1 836.7,1237.6 837.5,1238.0 838.3,1239.8 839.5,1239.3 840.4,1241.6 841.3,1242.2 842.0,1243.7 842.6,1240.0 842.7,1238.9 843.1,1239.9 844.0,1235.7 844.3,1238.1 844.9,1239.5 844.9,1240.9 845.9,1240.9 845.8,1243.6 846.0,1243.7 846.7,1243.2 847.3,1245.7 847.3,1248.6 847.8,1248.7 848.7,1250.6 850.6,1250.1 852.0,1251.9 853.3,1250.5 854.3,1251.2 854.9,1252.1 855.2,1254.5 856.3,1252.2 857.3,1256.6 858.3,1258.4 858.9,1258.0 860.0,1260.2 860.4,1261.7 861.4,1264.7 862.1,1264.0 862.7,1265.7 863.5,1265.3 864.0,1266.3 864.6,1267.3 865.0,1267.6 865.3,1271.9 865.6,1270.5 866.3,1272.7 866.4,1272.6 866.7,1276.9 867.1,1274.2 867.1,1279.7 867.2,1278.5 867.5,1281.7 867.9,1282.6 868.0,1284.0 869.4,1285.2 870.7,1284.6 872.3,1284.4 873.7,1285.7 874.3,1286.5 875.1,1288.2 875.8,1288.3 876.4,1290.9 876.8,1291.9 877.6,1294.1 878.3,1295.0 878.8,1295.5 880.2,1297.0 880.3,1298.3 880.9,1300.1 881.5,1302.5 882.4,1302.6 883.0,1304.2 883.6,1306.5 884.3,1308.2 885.0,1308.4 885.5,1308.0 886.2,1312.2 886.7,1311.6 886.8,1312.4 886.8,1317.7 887.2,1315.7 887.4,1316.9 887.5,1318.0 888.0,1319.0 888.0,1321.6 888.2,1322.6 888.3,1326.7 888.4,1325.2 888.5,1326.4 889.5,1325.5 890.8,1328.4 891.8,1326.5 893.0,1330.1 893.8,1330.4 894.2,1330.7 895.2,1334.1 895.7,1337.2 896.6,1337.6 897.3,1337.9 897.8,1338.5 899.1,1338.0 900.7,1340.1 902.1,1337.7 903.5,1340.4 905.0,1338.5 906.3,1340.2 907.6,1339.2 909.0,1339.9 910.0,1339.5 911.7,1340.3 912.4,1339.8 913.2,1335.4 913.7,1339.2 914.8,1337.0 915.4,1334.8 916.1,1337.4 916.2,1336.1 917.0,1337.9 917.4,1340.0 917.6,1341.3 918.5,1341.3 918.7,1343.1 919.3,1343.1 919.6,1346.0 920.2,1344.9 920.8,1340.0 921.4,1340.6 921.6,1340.0 922.2,1341.5 923.0,1339.0 923.7,1337.6 924.7,1336.2 925.6,1336.4 927.0,1334.4 927.4,1334.0 927.9,1329.9 928.3,1330.6 928.4,1327.5 928.5,1330.2 929.1,1330.4 929.2,1324.7 929.6,1324.8 930.0,1323.7 931.3,1324.8 932.3,1323.5 933.2,1322.5 934.5,1322.1 935.7,1321.0 936.7,1320.6 938.3,1322.0 939.2,1325.2 940.4,1324.6 940.5,1324.7 940.9,1320.6 941.3,1320.5 941.2,1318.8 941.6,1316.8 942.1,1317.2 942.4,1317.8 942.2,1313.5 942.8,1314.7 943.9,1312.0 945.4,1311.8 946.2,1310.4 946.9,1309.0 947.2,1309.0 947.9,1306.3 947.6,1301.6 948.0,1302.8 948.2,1303.2 948.2,1300.8 949.1,1298.6 949.0,1296.3 949.1,1294.5 949.6,1295.0 950.7,1295.4 952.0,1292.8 952.9,1292.5 954.3,1290.1 955.2,1291.3 955.4,1293.6 956.4,1289.1 956.2,1286.8 956.6,1284.7 956.8,1285.1 957.2,1281.4 957.7,1280.7 958.4,1282.6 958.5,1278.6 958.9,1278.3 959.5,1277.1 960.3,1274.3 960.6,1274.3 961.5,1272.5 962.0,1272.9 962.6,1270.0 964.5,1270.0 965.7,1269.4 967.2,1269.0 967.5,1267.3 967.6,1265.6 968.4,1264.1 968.6,1262.5 968.8,1259.3 968.9,1259.8 969.6,1258.5 969.5,1259.0 970.0,1256.0 970.8,1256.0 970.9,1252.5 971.4,1254.3 971.5,1250.6 972.2,1249.5 972.8,1247.5 973.0,1248.7 973.7,1245.0 974.7,1244.7 975.1,1245.4 976.3,1243.2 977.0,1240.2 977.1,1238.0 977.7,1236.8 977.6,1240.3 978.0,1235.4 978.4,1232.4 978.9,1233.8 979.2,1231.2 979.3,1228.2 979.4,1227.0 980.2,1230.0 980.3,1226.0 980.6,1224.5 981.0,1224.1 981.8,1222.0 982.5,1223.9 983.5,1218.4 983.8,1217.2 985.0,1219.4 985.2,1216.7 986.0,1215.2 986.6,1213.6 986.6,1210.5 987.2,1209.9 988.1,1210.7 987.9,1207.0 988.3,1206.2 988.6,1201.7 989.1,1203.8 989.3,1202.4 989.3,1202.0 990.1,1202.0 990.3,1199.0 990.9,1197.8 991.4,1192.9 992.3,1194.6 992.5,1193.6 993.2,1192.5 993.9,1187.6 994.8,1187.4 995.4,1184.5 995.6,1188.9 996.3,1185.8 997.0,1184.2 997.7,1184.2 998.5,1179.7 999.1,1181.3 1000.1,1180.2 1000.4,1178.1 1001.2,1177.3 1001.4,1173.4 1002.6,1174.1 1003.3,1173.1 1003.7,1170.0 1004.7,1170.8 1006.0,1171.8 1006.0,1168.8 1006.9,1167.7 1007.1,1163.6 1007.8,1164.9 1008.9,1163.7 1009.6,1162.7" fill="none" stroke="#ff0000" stroke-width="8.0" stroke-linecap="round" stroke-linejoin="round"/>
<polyline points="563.0,1263.0 564.0,1261.4 564.9,1260.6 566.2,1259.6 567.3,1260.5 568.0,1259.3 568.8,1257.6 570.0,1255.9 571.0,1255.5" fill="none" stroke="#ff0000" stroke-width="8.0" stroke-linecap="round" stroke-linejoin="round"/>
<polyline points="533.9,1248.5 535.1,1250.1 536.9,1251.7 538.2,1248.5" fill="none" stroke="#ff0000" stroke-width="8.0" stroke-linecap="round" stroke-linejoin="round"/>
<polyline points="740.4,1204.2 742.0,1206.5 743.2,1203.7 745.1,1203.7 746.0,1203.0 747.8,1203.3" fill="none" stroke="#ff0000" stroke-width="8.0" stroke-linecap="round" stroke-linejoin="round"/>
<polyline points="808.0,1217.2 808.1,1217.2" fill="none" stroke="#ff0000" stroke-width="8.0" stroke-linecap="round" stroke-linejoin="round"/>
<polyline points="1110.0,1146.0 1111.4,1143.0 1112.6,1147.0 1113.4,1146.7 1113.9,1148.9 1114.5,1150.6 1114.9,1153.1 1115.4,1152.6 1116.3,1151.8 1116.9,1154.9 1117.4,1156.7 1118.6,1157.4 1119.1,1156.8 1120.5,1158.8 1121.5,1155.8 1122.9,1160.2 1123.4,1160.4 1124.7,1162.7 1125.6,1161.7 1126.5,1164.4 1128.1,1166.4 1128.9,1165.8 1130.1,1167.6 1131.1,1164.8 1132.0,1168.8 1132.7,1170.9 1134.2,1171.6 1134.8,1169.6 1136.4,1171.1 1137.4,1172.7 1138.0,1178.2 1139.2,1176.0 1140.8,1177.8 1142.1,1176.1 1143.2,1177.6 1145.3,1176.4 1146.0,1178.2 1147.7,1178.5 1148.9,1178.3 1150.3,1180.0 1151.3,1179.4 1152.3,1179.8 1153.9,1183.0 1155.0,1183.3 1156.3,1182.3 1157.5,1185.5 1159.3,1179.5 1160.6,1181.0 1162.0,1182.0 1163.4,1180.2 1164.7,1178.4 1165.9,1177.8 1166.8,1178.3 1168.1,1178.9 1169.6,1177.5 1170.7,1177.3 1172.1,1175.4 1172.9,1173.7 1174.0,1174.9 1175.6,1174.1 1176.9,1173.1 1178.0,1172.4 1178.8,1170.3 1180.0,1172.0 1181.1,1169.9 1182.2,1169.8 1183.2,1168.4 1184.5,1167.8 1185.2,1166.4 1186.7,1165.9 1187.9,1161.8 1188.8,1164.3 1189.9,1164.9 1191.2,1163.2 1192.5,1162.7 1193.6,1160.4 1194.1,1160.4 1194.8,1158.8 1195.9,1160.1 1196.7,1156.7 1197.7,1155.6 1198.6,1155.5 1199.9,1155.5 1201.3,1158.1 1202.8,1156.3 1204.1,1155.2 1206.1,1154.5 1207.0,1156.7 1208.2,1157.7 1209.4,1156.4 1210.7,1153.2 1211.9,1156.3 1213.4,1153.5 1214.3,1153.0 1215.8,1153.5 1217.3,1153.1 1218.0,1149.4 1218.6,1150.9 1220.0,1146.6 1221.6,1148.2 1222.9,1149.0 1223.6,1149.5 1225.2,1147.5 1226.4,1145.8" fill="none" stroke="#ff0000" stroke-width="8.0" stroke-linecap="round" stroke-linejoin="round"/>
<polyline points="1232.5,1151.4 1232.6,1151.4" fill="none" stroke="#ff0000" stroke-width="8.0" stroke-linecap="round" stroke-linejoin="round"/>
<rect x="229.3" y="878.8" width="1061.9" height="488.7" fill="none" stroke="#000" stroke-width="1.5"/>
<line x1="239.25" y1="1367.5" x2="239.25" y2="1371.4" stroke="#000" stroke-width="1.2"/>
<line x1="260.50" y1="1367.5" x2="260.50" y2="1371.4" stroke="#000" stroke-width="1.2"/>
<line x1="281.75" y1="1367.5" x2="281.75" y2="1374.3" stroke="#000" stroke-width="1.5"/>
<line x1="303.00" y1="1367.5" x2="303.00" y2="1371.4" stroke="#000" stroke-width="1.2"/>
<line x1="324.25" y1="1367.5" x2="324.25" y2="1371.4" stroke="#000" stroke-width="1.2"/>
<line x1="345.50" y1="1367.5" x2="345.50" y2="1371.4" stroke="#000" stroke-width="1.2"/>
<line x1="366.75" y1="1367.5" x2="366.75" y2="1371.4" stroke="#000" stroke-width="1.2"/>
<line x1="388.00" y1="1367.5" x2="388.00" y2="1374.3" stroke="#000" stroke-width="1.5"/>
<line x1="409.25" y1="1367.5" x2="409.25" y2="1371.4" stroke="#000" stroke-width="1.2"/>
<line x1="430.50" y1="1367.5" x2="430.50" y2="1371.4" stroke="#000" stroke-width="1.2"/>
<line x1="451.75" y1="1367.5" x2="451.75" y2="1371.4" stroke="#000" stroke-width="1.2"/>
<line x1="473.00" y1="1367.5" x2="473.00" y2="1371.4" stroke="#000" stroke-width="1.2"/>
<line x1="494.25" y1="1367.5" x2="494.25" y2="1374.3" stroke="#000" stroke-width="1.5"/>
<line x1="515.50" y1="1367.5" x2="515.50" y2="1371.4" stroke="#000" stroke-width="1.2"/>
<line x1="536.75" y1="1367.5" x2="536.75" y2="1371.4" stroke="#000" stroke-width="1.2"/>
<line x1="558.00" y1="1367.5" x2="558.00" y2="1371.4" stroke="#000" stroke-width="1.2"/>
<line x1="579.25" y1="1367.5" x2="579.25" y2="1371.4" stroke="#000" stroke-width="1.2"/>
<line x1="600.50" y1="1367.5" x2="600.50" y2="1374.3" stroke="#000" stroke-width="1.5"/>
<line x1="621.75" y1="1367.5" x2="621.75" y2="1371.4" stroke="#000" stroke-width="1.2"/>
<line x1="643.00" y1="1367.5" x2="643.00" y2="1371.4" stroke="#000" stroke-width="1.2"/>
<line x1="664.25" y1="1367.5" x2="664.25" y2="1371.4" stroke="#000" stroke-width="1.2"/>
<line x1="685.50" y1="1367.5" x2="685.50" y2="1371.4" stroke="#000" stroke-width="1.2"/>
<line x1="706.75" y1="1367.5" x2="706.75" y2="1374.3" stroke="#000" stroke-width="1.5"/>
<line x1="728.00" y1="1367.5" x2="728.00" y2="1371.4" stroke="#000" stroke-width="1.2"/>
<line x1="749.25" y1="1367.5" x2="749.25" y2="1371.4" stroke="#000" stroke-width="1.2"/>
<line x1="770.50" y1="1367.5" x2="770.50" y2="1371.4" stroke="#000" stroke-width="1.2"/>
<line x1="791.75" y1="1367.5" x2="791.75" y2="1371.4" stroke="#000" stroke-width="1.2"/>
<line x1="813.00" y1="1367.5" x2="813.00" y2="1374.3" stroke="#000" stroke-width="1.5"/>
<line x1="834.25" y1="1367.5" x2="834.25" y2="1371.4" stroke="#000" stroke-width="1.2"/>
<line x1="855.50" y1="1367.5" x2="855.50" y2="1371.4" stroke="#000" stroke-width="1.2"/>
<line x1="876.75" y1="1367.5" x2="876.75" y2="1371.4" stroke="#000" stroke-width="1.2"/>
<line x1="898.00" y1="1367.5" x2="898.00" y2="1371.4" stroke="#000" stroke-width="1.2"/>
<line x1="919.25" y1="1367.5" x2="919.25" y2="1374.3" stroke="#000" stroke-width="1.5"/>
<line x1="940.50" y1="1367.5" x2="940.50" y2="1371.4" stroke="#000" stroke-width="1.2"/>
<line x1="961.75" y1="1367.5" x2="961.75" y2="1371.4" stroke="#000" stroke-width="1.2"/>
<line x1="983.00" y1="1367.5" x2="983.00" y2="1371.4" stroke="#000" stroke-width="1.2"/>
<line x1="1004.25" y1="1367.5" x2="1004.25" y2="1371.4" stroke="#000" stroke-width="1.2"/>
<line x1="1025.50" y1="1367.5" x2="1025.50" y2="1374.3" stroke="#000" stroke-width="1.5"/>
<line x1="1046.75" y1="1367.5" x2="1046.75" y2="1371.4" stroke="#000" stroke-width="1.2"/>
<line x1="1068.00" y1="1367.5" x2="1068.00" y2="1371.4" stroke="#000" stroke-width="1.2"/>
<line x1="1089.25" y1="1367.5" x2="1089.25" y2="1371.4" stroke="#000" stroke-width="1.2"/>
<line x1="1110.50" y1="1367.5" x2="1110.50" y2="1371.4" stroke="#000" stroke-width="1.2"/>
<line x1="1131.75" y1="1367.5" x2="1131.75" y2="1374.3" stroke="#000" stroke-width="1.5"/>
<line x1="1153.00" y1="1367.5" x2="1153.00" y2="1371.4" stroke="#000" stroke-width="1.2"/>
<line x1="1174.25" y1="1367.5" x2="1174.25" y2="1371.4" stroke="#000" stroke-width="1.2"/>
<line x1="1195.50" y1="1367.5" x2="1195.50" y2="1371.4" stroke="#000" stroke-width="1.2"/>
<line x1="1216.75" y1="1367.5" x2="1216.75" y2="1371.4" stroke="#000" stroke-width="1.2"/>
<line x1="1238.00" y1="1367.5" x2="1238.00" y2="1374.3" stroke="#000" stroke-width="1.5"/>
<line x1="1259.25" y1="1367.5" x2="1259.25" y2="1371.4" stroke="#000" stroke-width="1.2"/>
<line x1="1280.50" y1="1367.5" x2="1280.50" y2="1371.4" stroke="#000" stroke-width="1.2"/>
<text x="281.8" y="1395.8" font-size="21.4" text-anchor="middle" fill="#000">-10</text>
<text x="388.0" y="1395.8" font-size="21.4" text-anchor="middle" fill="#000">0</text>
<text x="494.2" y="1395.8" font-size="21.4" text-anchor="middle" fill="#000">10</text>
<text x="600.5" y="1395.8" font-size="21.4" text-anchor="middle" fill="#000">20</text>
<text x="706.8" y="1395.8" font-size="21.4" text-anchor="middle" fill="#000">30</text>
<text x="813.0" y="1395.8" font-size="21.4" text-anchor="middle" fill="#000">40</text>
<text x="919.2" y="1395.8" font-size="21.4" text-anchor="middle" fill="#000">50</text>
<text x="1025.5" y="1395.8" font-size="21.4" text-anchor="middle" fill="#000">60</text>
<text x="1131.8" y="1395.8" font-size="21.4" text-anchor="middle" fill="#000">70</text>
<text x="1238.0" y="1395.8" font-size="21.4" text-anchor="middle" fill="#000">80</text>
<line x1="222.5" y1="927.8" x2="229.3" y2="927.8" stroke="#000" stroke-width="1.5"/>
<text x="215.5" y="935.5" font-size="21.2" text-anchor="end" fill="#0a0a6c">20</text>
<line x1="222.5" y1="1034.4" x2="229.3" y2="1034.4" stroke="#000" stroke-width="1.5"/>
<text x="215.5" y="1042.1" font-size="21.2" text-anchor="end" fill="#0a0a6c">10</text>
<line x1="222.5" y1="1141.0" x2="229.3" y2="1141.0" stroke="#000" stroke-width="1.5"/>
<text x="215.5" y="1148.7" font-size="21.2" text-anchor="end" fill="#0a0a6c">0</text>
<line x1="222.5" y1="1247.6" x2="229.3" y2="1247.6" stroke="#000" stroke-width="1.5"/>
<text x="215.5" y="1255.3" font-size="21.2" text-anchor="end" fill="#0a0a6c">−10</text>
<line x1="222.5" y1="1354.2" x2="229.3" y2="1354.2" stroke="#000" stroke-width="1.5"/>
<text x="215.5" y="1361.9" font-size="21.2" text-anchor="end" fill="#0a0a6c">−20</text>
<line x1="1291.2" y1="936.2" x2="1298.0" y2="936.2" stroke="#000" stroke-width="1.5"/>
<text x="1303.5" y="943.9" font-size="21.4" fill="#ff0000">1.0</text>
<line x1="1291.2" y1="1038.6" x2="1298.0" y2="1038.6" stroke="#000" stroke-width="1.5"/>
<text x="1303.5" y="1046.3" font-size="21.4" fill="#ff0000">0.5</text>
<line x1="1291.2" y1="1141.0" x2="1298.0" y2="1141.0" stroke="#000" stroke-width="1.5"/>
<text x="1303.5" y="1148.7" font-size="21.4" fill="#ff0000">0.0</text>
<line x1="1291.2" y1="1243.4" x2="1298.0" y2="1243.4" stroke="#000" stroke-width="1.5"/>
<text x="1303.5" y="1251.1" font-size="21.4" fill="#ff0000">−0.5</text>
<line x1="1291.2" y1="1345.8" x2="1298.0" y2="1345.8" stroke="#000" stroke-width="1.5"/>
<text x="1303.5" y="1353.5" font-size="21.4" fill="#ff0000">−1.0</text>
<text x="759.5" y="1423.8" font-size="21.7" text-anchor="middle" fill="#000">Time (ns)</text>
<text transform="translate(159.4,1122.7) rotate(-90)" font-size="21.6" text-anchor="middle" fill="#0a0a6c">Applied Voltage (kV)</text>
<text transform="translate(1379,1123.2) rotate(-90)" font-size="21.56" text-anchor="middle" fill="#ff0000">Field Strength (AU)</text>
<text x="622.6" y="849.5" font-size="16.2" text-anchor="middle" fill="#808080" stroke="#808080" stroke-width="0.5">Image Numbers</text>
<text x="356.1" y="874" font-size="16.8" fill="#808080">1</text>
<text x="377.4" y="874" font-size="16.8" fill="#808080">2</text>
<text x="398.6" y="874" font-size="16.8" fill="#808080">3</text>
<text x="419.9" y="874" font-size="16.8" fill="#808080">4</text>
<text x="451.8" y="874" font-size="16.8" fill="#808080">5</text>
<text x="473.0" y="874" font-size="16.8" fill="#808080">6</text>
<text x="494.3" y="874" font-size="16.8" fill="#808080">7</text>
<text x="515.5" y="874" font-size="16.8" fill="#808080">8</text>
<text x="536.8" y="874" font-size="16.8" fill="#808080">9</text>
<text x="558.0" y="874" font-size="16.8" fill="#808080">10</text>
<text x="579.3" y="874" font-size="16.8" fill="#808080">11</text>
<text x="600.5" y="874" font-size="16.8" fill="#808080">12</text>
<text x="855.5" y="874" font-size="16.8" fill="#808080">13</text>
<text x="887.4" y="874" font-size="16.8" fill="#808080">14</text>
<text x="919.3" y="874" font-size="16.8" fill="#808080">15</text>
<text x="951.1" y="874" font-size="16.8" fill="#808080">16</text>
<rect x="1070" y="888.8" width="211" height="63.7" rx="3" ry="3" fill="#fff" fill-opacity="0.8" stroke="#ccc" stroke-width="1.3"/>
<line x1="1078" y1="905.0" x2="1118.5" y2="905.0" stroke="#0343df" stroke-width="1.6" stroke-dasharray="1.5 2.5"/>
<circle cx="1098" cy="905.0" r="3.3" fill="#0343df"/>
<text x="1133.5" y="911.8" font-size="20" fill="#000">Absolute Field</text>
<line x1="1078" y1="933.8" x2="1118.5" y2="933.8" stroke="#ff0000" stroke-width="1.6" stroke-dasharray="1.5 2.5"/>
<circle cx="1098" cy="933.8" r="3.3" fill="#ff0000"/>
<text x="1133.5" y="940.6" font-size="20" fill="#000">Actual Field</text>
</g>
</svg>
<div class="lab" style="left:11px;top:267px;">(a)</div>
<div class="lab" style="left:7px;top:1112px;font-size:43.8px;">(b)</div>
</body></html>
